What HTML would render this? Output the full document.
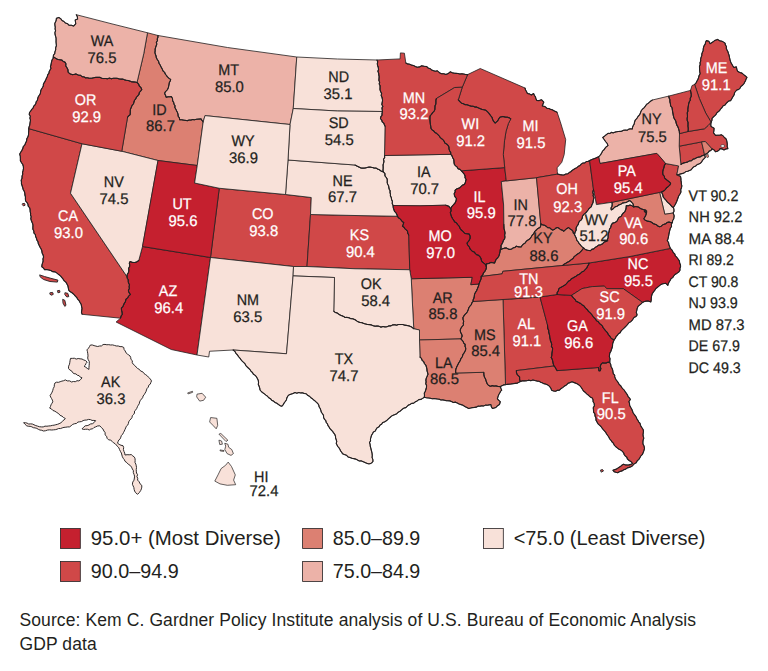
<!DOCTYPE html>
<html><head><meta charset="utf-8"><title>Map</title>
<style>html,body{margin:0;padding:0;background:#fff}body{width:768px;height:671px;position:relative;overflow:hidden;font-family:"Liberation Sans",sans-serif}</style></head>
<body>
<svg width="768" height="671" viewBox="0 0 768 671" style="position:absolute;left:0;top:0">
<g stroke="#231f20" stroke-width="0.8" stroke-linejoin="round">
<path fill="#d04848" d="M503 299.5 505.5 384.7 507.32 384.33 509.16 384.18 511 384 513.06 383.68 515.12 383.39 517.2 383.2 518.74 382.38 520.3 381.6 519.64 379.3 519.6 376.9 517.2 374.6 516.5 372.66 516.4 370.6 554 366 553.43 364.31 553 362.57 552.65 360.8 552.16 359.09 551.25 357.5 551.8 355.66 551.91 353.76 552.21 351.88 552.5 350 552.57 348.06 551.4 346.33 551.73 344.35 551.25 342.5 550.5 340.83 550.22 339.06 549.81 337.32 549.64 335.52 549.23 333.78 548.71 332.06 548.69 330.24 547.79 328.6 547.63 326.8 547.5 325 540 297Z"/>
<path fill="#dc8072" d="M411.25 278.75 412.5 305 413.75 328.75 419.5 330 419.5 340 460.9 338.9 462.25 336 461.57 334 460.52 332.13 460.25 330 460.99 328.11 462.17 326.51 463.5 325 463.3 323.13 463.68 321.22 463.12 319.38 463 317.5 463.98 315.89 465.05 314.35 466.48 313.08 467.5 311.5 468.29 309.65 468.88 307.7 470 306 471.33 304.72 471.87 302.91 473 301.5 473.23 299.72 474 298.1 474.34 296.35 474.5 294.56 475.2 292.9 476.57 290.81 477.5 288.5 478.43 286.31 479 284 470.8 284.7 472.3 277.3Z"/>
<path fill="#c5202f" d="M142.5 246.5 210.5 257.5 197 355 171.25 349.5 116.1 322 120.5 318.2 121 316.07 122.3 314.3 121.99 312.2 121.51 310.13 121.4 308 122.71 306.78 123.47 305.23 124.1 303.6 125.46 301.53 125.9 299.1 127.65 297.85 128.71 295.91 130.4 294.6 128.6 291.9 128.45 290.08 129.36 288.39 129.07 286.55 129.5 284.8 128.58 283.26 128.24 281.55 128.19 279.74 127.23 278.22 126.9 276.5 127.29 274.27 128.57 272.29 128.75 270 128.59 268.24 129.54 266.64 129.65 264.92 129.31 263.13 130 261.5 132.42 262.38 135 262.5 136.97 261.68 138.75 260.5Z"/>
<path fill="#d04848" d="M28.7 128.6 82 143.75 70.5 193.25 126.9 276.5 127.23 278.22 128.19 279.74 128.24 281.55 128.58 283.26 129.5 284.8 129.07 286.55 129.36 288.39 128.45 290.08 128.6 291.9 130.4 294.6 128.71 295.91 127.65 297.85 125.9 299.1 125.46 301.53 124.1 303.6 123.47 305.23 122.71 306.78 121.4 308 121.51 310.13 121.99 312.2 122.3 314.3 121 316.07 120.5 318.2 82.1 314.3 81.47 312.36 81.72 310.34 81.97 308.32 81.56 306.36 81.2 304.4 80.08 302.58 79.11 300.66 77.6 299.1 76.78 297.5 75.48 296.29 74.36 294.93 73.1 293.7 71.61 292.53 69.93 291.59 68.7 290.1 68.32 287.97 67.88 285.86 66.9 283.9 65.9 282.13 64.23 280.88 63.15 279.17 61.9 277.6 60.51 275.84 58.67 274.56 57 273.1 55.1 271.85 52.74 271.66 50.8 270.5 48.73 269.99 46.65 269.55 44.5 269.6 43.45 267.95 41.8 266.9 41.97 264.89 42.58 262.95 43.13 261.01 42.94 258.93 43.6 257 43.07 254.91 42.1 252.95 41.8 250.8 41.09 248.92 40.06 247.19 39.19 245.39 38.3 243.6 37.98 241.69 36.89 240.07 36.4 238.23 35.6 236.5 35.36 234.54 33.91 233.03 33.85 231 32.9 229.3 32.84 227.5 32.93 225.69 32.71 223.91 32 222.2 31.34 220.46 30.77 218.7 31.16 216.74 30.5 215 30.61 213.28 30.18 211.6 30.1 209.9 29.69 207.81 28.2 206.13 27.9 204 26.86 202.41 25.6 201 25.4 199 25.46 196.96 24.9 195 24.76 193.03 24.21 191.18 23.16 189.48 22.7 187.6 22.14 185.76 21.47 183.95 21.46 182 21.2 180.1 22.02 178.21 22.05 176.13 22.7 174.2 22.57 172.3 23.1 170.46 23.49 168.6 23.4 166.7 22.78 164.54 21.52 162.7 20.4 160.8 20.4 158.54 20.31 156.29 19.7 154.1 20.7 152.33 21.77 150.61 22.7 148.8 23.27 146.64 24.83 144.96 25.6 142.9 26.58 140.98 26.8 138.77 27.9 136.9 28.52 134.87 28.57 132.78 28.72 130.7Z"/>
<path fill="#d04848" d="M219.25 188.25 285.5 194.5 311.25 197.5 310.5 214.5 307 266.5 293.5 266.5 210.5 257.5Z"/>
<path fill="#d04848" d="M679.2 146.2 680.9 164.5 682.4 163.48 684.05 162.89 685.77 162.49 687.5 162.1 689.28 161.07 691.4 160.79 692.96 159.25 695 158.8 696.51 157.78 698.21 157.18 700.08 157.01 701.6 156 704.6 154.8 701.6 141.9Z"/>
<path fill="#f8e1d9" d="M659.6 192.4 664.8 214.3 673.2 213 674 211.2 673.9 209.32 673.4 207.5 671.66 206.43 670.48 204.75 669 203.4 667.31 202.07 666.13 200.27 664.64 198.75 663.3 197.1 662.91 195.29 662.24 193.59 661.5 191.9Z"/>
<path fill="#d04848" d="M520.3 381.6 519.64 379.3 519.6 376.9 517.2 374.6 516.5 372.66 516.4 370.6 554 366 555.28 367.37 556.09 369.05 557.1 370.6 598.6 367.5 598.9 370.8 600.2 370.8 600.83 368.71 600.25 366.49 600.9 364.4 602.5 362.8 604.34 363.07 606.16 362.96 607.96 362.15 609.8 362.5 610.71 364.41 611 366.5 612.01 368.21 612.69 370.04 613 372 613.3 373.74 614.68 375.04 614.71 376.88 615.42 378.46 616.2 380 617.36 381.4 618.36 382.89 619.2 384.5 620.76 385.69 621.6 387.49 622.9 388.9 624.3 390.19 625.26 391.82 626.39 393.32 627.4 394.9 628.13 396.58 629.33 397.95 630.4 399.4 628.9 401.6 629.49 403.4 629.6 405.3 630.63 407.28 631.79 409.21 632.6 411.3 633.17 413.02 634.28 414.41 635.35 415.81 636.3 417.3 636.9 418.98 637.97 420.36 638.67 421.98 640 423.2 640.55 425.42 641.66 427.37 643 429.2 643.48 430.95 643.31 432.76 643.05 434.58 643.24 436.36 643.8 438.1 643.17 440.05 642.91 442.05 643 444.1 644.13 446.22 644.5 448.6 643.84 450.83 643 453 642.28 454.69 640.84 455.89 640 457.5 638.94 459.36 637.23 460.75 636.3 462.7 634.17 463.86 632.6 465.7 631.01 466.77 629.21 467.36 627.4 467.9 625.78 469.1 623.82 469.7 622.2 470.9 619.83 471.51 617.7 472.7 615.83 472.29 614 471.7 612.9 470.2 615.5 469.4 617.42 468.41 619.2 467.2 620.74 466.26 622.08 465.02 623.7 464.2 625.37 464.92 627.12 464.98 628.9 464.9 630.81 464.37 632.6 463.5 631.1 461.7 629.12 460.53 627.4 459 626.85 457.27 625.38 456.1 624.26 454.73 623.7 453 622.43 451.37 620.84 450.13 619 449.2 617.22 447.89 615.5 446.5 614.2 445.1 613.45 443.28 612 442 611.02 440.27 609.59 438.85 608.8 437 607.69 435.53 606.62 434.02 605.73 432.39 604.5 431 603.25 429.56 602.07 428.07 601 426.5 599.45 425.19 597.99 423.8 597 422 595.98 420.12 595.93 417.91 595 416 594.87 413.91 593.54 412.12 593.5 410 593.25 407.78 594.39 405.71 594.2 403.5 593.12 401.82 593.04 399.8 592.3 398 590.18 396.96 588.5 395.3 586.65 393.91 585.1 392.2 583.45 390.95 582.35 389.24 581.3 387.5 579.99 385.82 578.34 384.55 576.5 383.5 574.25 382.64 572 381.8 570.09 382.6 568.1 383.2 566.39 385.05 564.2 386.3 562.65 387.62 560.87 388.66 559.5 390.2 557.44 390.34 555.6 391.3 553.54 390.99 551.6 390.2 551 388.58 550.1 387.1 548.78 385.69 547.21 384.66 545.4 384 543.7 383.62 542.17 382.83 540.59 382.17 539.1 381.3 536.99 381.09 534.94 380.58 532.9 380 530.85 380.66 528.65 380.17 526.6 380.8 524.48 380.91 522.34 380.88Z"/>
<path fill="#c5202f" d="M540 297 547.5 325 547.63 326.8 547.79 328.6 548.69 330.24 548.71 332.06 549.23 333.78 549.64 335.52 549.81 337.32 550.22 339.06 550.5 340.83 551.25 342.5 551.73 344.35 551.4 346.33 552.57 348.06 552.5 350 552.21 351.88 551.91 353.76 551.8 355.66 551.25 357.5 552.16 359.09 552.65 360.8 553 362.57 553.43 364.31 554 366 555.28 367.37 556.09 369.05 557.1 370.6 598.6 367.5 598.9 370.8 600.2 370.8 600.83 368.71 600.25 366.49 600.9 364.4 602.5 362.8 604.34 363.07 606.16 362.96 607.96 362.15 609.8 362.5 609.84 360.62 610.05 358.73 609.38 356.88 609.5 355 609.79 353.14 610.78 351.53 611.37 349.77 612.02 348.04 612.5 346.25 612.61 343.95 613.32 341.8 614.2 339.7 612.3 339.1 610.8 337.8 609.81 336.03 608.37 334.55 607.5 332.7 606.25 331.51 605.15 330.21 604.09 328.89 603.07 327.52 602.4 325.9 601.01 324.59 599.42 323.48 598.44 321.76 596.64 320.87 595.6 319.2 594.39 317.87 593.16 316.55 592.13 315.06 591 313.65 589.7 312.4 588.29 311.23 587.39 309.6 585.92 308.48 584.81 307.04 583.7 305.6 582.1 304.9 580.85 303.58 579.26 302.86 577.82 301.89 576.1 301.4 575.31 299.62 573.85 298.37 572.59 296.94 571.5 295.4 557 294.5Z"/>
<path fill="#f8e1d9" d="M384.5 155.5 384.64 157.47 383.5 159.24 383.89 161.25 383.59 163.15 383 165 383.13 166.75 383.14 168.51 382.88 170.29 383.5 172 384.84 173.62 384.93 175.87 386.25 177.5 387.14 179.05 387.26 180.79 387.2 182.57 387.61 184.24 388.6 185.77 388.75 187.5 389.18 189.16 390.06 190.71 389.97 192.51 390.44 194.16 390.41 195.94 391.25 197.5 391.56 199.53 392.39 201.44 392.22 203.57 393 205.5 420 205.8 445.8 205.2 448.7 206.2 450.8 208.8 451.8 206.6 453.39 204.75 455.1 203 456.01 200.92 456.5 198.7 455.19 197.11 454.4 195.2 454.29 193.45 455.21 191.85 455.1 190.1 457.09 188.73 459.4 188 460.96 186.65 462.45 185.21 464.4 184.4 465.26 182.83 465.67 181.11 466.1 179.4 465.07 177.89 465.15 176 464.4 174.4 462.99 172.57 461.5 170.8 459.97 169.39 458 168.7 457.15 166.98 455.58 165.85 454.4 164.4 454.09 162.71 453.99 160.99 453.7 159.3 452.67 157.67 452.06 155.8 450.8 154.3Z"/>
<path fill="#dc8072" d="M147.5 32.75 143.75 53.75 137 82.5 138.55 84 139.28 86.05 140.92 87.48 141.7 89.5 140.71 91.07 139.34 92.4 138.95 94.34 137.8 95.8 136.42 97.1 135.73 98.83 134.55 100.25 133.9 102 133.48 103.96 131.99 105.4 131.33 107.24 130.5 109 130.23 110.99 130.29 113.01 130 115 128.41 115.91 127.5 117.5 121.75 151.25 158 160.5 197.25 165.5 203.2 121.8 202.02 120.47 201.2 118.9 198.95 119.03 196.7 119.18 194.5 119.7 192.69 119.51 190.94 120.04 189.15 119.98 187.41 120.62 185.6 120.4 183.61 120.08 181.63 119.7 179.6 119.7 179.43 117.84 178.23 116.27 178.1 114.4 177.52 112.6 176.67 110.92 175.9 109.2 174.93 107.66 175.06 105.77 174.09 104.23 173.7 102.5 172.63 100.65 172.5 98.44 171.4 96.6 169.65 96.72 167.89 96.73 166.2 97.3 165.59 95.39 164.7 93.6 165.25 91.87 166.62 90.64 167.71 89.25 168.4 87.6 168.72 85.92 169.14 84.27 169.37 82.57 170.29 81.05 170.7 79.4 169.13 78.4 167.7 77.2 166.63 75.66 165.4 74.24 164.72 72.4 163.2 71.2 162.51 69.62 161.73 68.09 160.86 66.59 160.2 65 159.07 63.25 158.51 61.2 157.3 59.5 156.4 57.86 156.12 56.01 155.4 54.31 155 52.5 155.22 50.79 155.2 49.03 155.63 47.35 156.24 45.71 156.8 44.05 156.4 42.23 157.49 40.67 157.29 38.88 158 37.25 158 35.5Z"/>
<path fill="#c5202f" d="M450.8 208.8 451.1 210.7 450.31 212.6 450.8 214.5 451.46 216.55 452.44 218.45 453.7 220.2 454.6 221.89 456.41 222.79 457.4 224.4 459.14 226.19 460.1 228.5 461.14 229.96 462.6 231 464.8 233.5 467.05 233.82 469.3 234.1 470.08 236.23 470 238.5 469.25 240.17 468.27 241.68 467 243 467.63 245.18 469.32 246.84 470 249 471.24 250.18 472.39 251.45 474.22 251.92 475.2 253.4 476.49 254.72 478.31 255.24 479.7 256.4 480.77 257.99 481.26 259.83 481.9 261.6 483.76 263.16 485.7 264.6 486.4 267.6 486.36 265.75 486.4 263.9 488.78 263.53 490.9 262.4 492.76 262.69 494.6 263.1 495.35 261.25 496.1 259.4 497.84 257.75 499.1 255.7 499.55 253.71 500.11 251.74 500.3 249.7 501.12 247.77 501.08 245.58 502.1 243.7 502.94 242.07 503.47 240.31 504.59 238.81 505 237 504.64 235.05 505.11 233.05 504.7 231.1 504.17 228.9 503.94 226.66 503.9 224.4 503.6 205 501.3 181.6 506.3 180.9 504.7 167.6 461.5 170.8 462.99 172.57 464.4 174.4 465.15 176 465.07 177.89 466.1 179.4 465.67 181.11 465.26 182.83 464.4 184.4 462.45 185.21 460.96 186.65 459.4 188 457.09 188.73 455.1 190.1 455.21 191.85 454.29 193.45 454.4 195.2 455.19 197.11 456.5 198.7 456.01 200.92 455.1 203 453.39 204.75 451.8 206.6Z"/>
<path fill="#ecb2a8" d="M506.3 180.9 501.3 181.6 503.6 205 503.9 224.4 503.94 226.66 504.17 228.9 504.7 231.1 505.11 233.05 504.64 235.05 505 237 504.59 238.81 503.47 240.31 502.94 242.07 502.1 243.7 501.08 245.58 501.12 247.77 500.3 249.7 502.62 248.76 505 248 506.77 248.15 508.3 249.11 510 249.5 511.75 249.04 513.12 247.86 514.9 247.48 516.25 246.25 518.71 246.9 521.25 247 522.2 245.3 523.54 243.94 525.28 242.93 526.25 241.25 528.08 239.93 530 238.75 531.17 237.02 532.2 235.19 533.75 233.75 534.66 231.65 536.25 230 537.93 228.46 540 227.5 540.81 225.71 540.75 223.75 536.5 177.7Z"/>
<path fill="#d04848" d="M310.5 214.5 307 266.5 355 268.75 409.75 269.75 408.75 235 407.76 233.25 407.5 231.25 406.37 229.88 404.92 228.83 404.09 227.16 402.5 226.25 403.22 224.41 403.75 222.5 402.19 221.56 401.17 220.08 400 218.75 398.43 217.82 397.5 216.25 355 215.5Z"/>
<path fill="#dc8072" d="M481.2 276.5 502.1 273.9 502.8 271.3 562.5 265.5 563.9 264.35 565.51 263.52 566.99 262.49 568.61 261.67 570.13 260.7 571.5 259.5 573.11 258.54 574.02 256.78 575.49 255.65 576.9 254.46 578.5 253.5 580.05 252.34 581.38 250.97 582.55 249.45 583.8 248 581.73 246.65 580.2 244.7 579 243.32 578.14 241.67 576.8 240.4 576.37 238.3 575.43 236.4 574.5 234.5 573.35 233.17 573.02 231.4 572 230 570.15 229.04 568.75 227.5 566.84 228.42 565.28 229.82 563.75 231.25 562.31 230.1 560.5 229.58 559.16 228.28 557.5 227.5 555.72 228.1 554.35 229.53 552.5 230 550.98 229 549.62 227.72 547.57 227.59 546.25 226.25 544.51 225.22 542.5 224.77 540.75 223.75 540.81 225.71 540 227.5 537.93 228.46 536.25 230 534.66 231.65 533.75 233.75 532.2 235.19 531.17 237.02 530 238.75 528.08 239.93 526.25 241.25 525.28 242.93 523.54 243.94 522.2 245.3 521.25 247 518.71 246.9 516.25 246.25 514.9 247.48 513.12 247.86 511.75 249.04 510 249.5 508.3 249.11 506.77 248.15 505 248 502.62 248.76 500.3 249.7 500.11 251.74 499.55 253.71 499.1 255.7 497.84 257.75 496.1 259.4 495.35 261.25 494.6 263.1 492.76 262.69 490.9 262.4 488.78 263.53 486.4 263.9 486.36 265.75 486.4 267.6 485.83 269.52 484.9 271.3 483.44 272.94 482.7 275Z"/>
<path fill="#dc8072" d="M419.5 340 420 357.2 421.49 358.39 422.03 360.38 423.6 361.5 424.35 363.51 425.76 365.18 426.5 367.2 426.82 369.01 426.99 370.84 427.59 372.59 427.9 374.4 427.11 376.27 426.27 378.11 425.8 380.1 426.04 381.89 425.71 383.74 426.53 385.48 426.5 387.3 425.89 389.25 425.37 391.23 424.3 393 424.5 395.15 424.3 397.3 426.43 397.8 428.6 398 430.39 398.31 432.16 398.76 434 398.59 435.8 398.8 437.52 399.07 439.27 399.19 440.9 399.99 442.69 399.87 444.4 400.2 446.16 400.65 447.97 400.78 449.8 400.88 451.5 401.6 453.32 402.53 455.49 402.14 457.3 403.1 459.1 404.06 461.06 404.62 463 405.2 464.75 406.55 466.79 407.42 468.7 408.5 470.62 408.08 472.53 407.58 474.5 407.4 476.3 407.16 477.95 406.17 479.81 406.21 481.6 405.9 483.58 406.04 485.43 405.13 487.4 405.2 489.15 404.86 490.9 404.5 491.29 406.64 492.4 408.5 494.21 407.99 496 407.4 497.54 405.7 499.5 404.5 500.3 401.6 498.72 400.34 497.4 398.8 498.01 396.62 498.8 394.5 499.75 393.06 500.48 391.46 501.7 390.2 500.97 388.41 500.3 386.6 498.19 386.5 496.13 385.86 494 386 492.29 385.62 490.5 386.23 488.8 385.6 487.38 384.16 486.6 382.3 486.04 380.57 485.54 378.82 484.5 377.3 483.95 374.83 483.8 372.3 455.8 373 455.63 371.04 455.9 369.14 456.6 367.3 457.61 365.13 458.7 363 460.02 360.96 460.9 358.7 462.34 356.74 463 354.4 464.5 352.37 465.6 350.1 465.73 348.15 465.09 346.25 465.2 344.3 463.78 343.23 463.17 341.51 462.04 340.2 460.9 338.9Z"/>
<path fill="#d04848" d="M679.5 133.6 679.2 146.2 701.6 141.9 705.3 141.5 711.9 148.8 714.1 149.9 715.5 151.8 717.4 151.2 719 150.2 720 148.6 722.11 148.91 724 149.9 725.87 149 727.9 148.6 727.2 146.35 727.3 144 727.02 142.2 726.61 140.42 726 138.7 724.36 137.53 723.1 135.9 721.4 134.8 719.46 135.22 717.47 135.2 715.5 135.4 713.5 132.8 713.93 130.52 714.1 128.2 712.42 127.36 710.9 126.25 710.82 124.22 711.1 122.2 708.1 125.5 704.4 128.8 688 131.5Z"/>
<path fill="#dc8072" d="M611.9 202.3 612.19 204.26 611.95 206.18 610.99 208.04 611.25 210 613.34 208.7 615 206.9 617.05 206.3 618.75 205 620.78 204.35 622.5 203.1 624.36 202.71 626.25 202.5 628.04 201.37 630 200.6 631.16 201.94 632.5 203.1 633.44 204.95 633.75 207 635.6 206.5 638.25 207 640.9 208.8 642.95 209.46 645 210.1 646.6 212.75 645.5 215.9 643.8 218.8 645.22 220.28 647.1 221.1 650.2 221.6 651.86 222.56 653.4 223.7 656.5 224.75 657.81 226.14 659.6 226.8 661.43 226.17 662.75 224.75 665.9 223.7 667.23 222.48 669 222.1 670.67 222.58 672.4 222.4 672.65 220.55 673.7 219 674.2 215.9 673.2 213 664.8 214.3 659.6 192.4Z"/>
<path fill="#d04848" d="M694.6 84.4 699.3 98.4 705.7 113 711.1 122.2 711.94 120.39 712.1 118.4 713.24 117.04 714.64 115.9 715.92 114.67 716.7 113 718.2 111.77 719.69 110.54 720.7 108.83 722.1 107.5 723.12 105.77 725.16 105.06 726.23 103.38 727.6 102 728.98 100.87 730.75 100.6 731.95 98.39 733.25 96.25 734.22 94.65 734.55 92.73 735.75 91.25 736.95 89.86 738.83 89.4 740.1 88.1 741.01 86.34 742.64 85.2 743.9 83.75 744.65 82.18 745.54 80.67 746.08 78.99 747 77.5 745.4 75.96 743.64 74.59 742 73.1 739.7 72.42 737.6 71.25 736.81 69.13 736.4 66.9 733.9 67.5 732.9 65.98 732 64.4 730.98 62.82 730.4 61.08 729.92 59.3 729.5 57.5 729.16 55.53 728.49 53.67 727.95 51.77 727 50 726.29 48.34 726.43 46.44 725.37 44.88 725.1 43.1 723.57 42.14 722 41.25 719.62 40.74 717.6 39.4 714.5 40.6 713.14 41.79 711.58 42.72 710.1 43.75 708.9 41.25 706.4 40.6 705.57 42.15 705.32 43.93 704.25 45.39 703.61 47.02 703.25 48.75 703.17 50.59 702.44 52.27 701.79 53.97 701.78 55.84 701 57.5 700.63 59.24 700.69 61.05 700 62.73 700.19 64.57 699.5 66.25 699.53 68.13 699.59 70.02 699.76 71.89 700.1 73.75 699.03 75.74 698.5 77.94 697.6 80 696.69 81.53 695.97 83.19Z"/>
<path fill="#d04848" d="M467.6 74.6 462.25 87.25 458.3 99.8 459.8 101.59 461.5 103.2 463.34 103.71 465.05 104.68 467 104.8 469.01 105.52 471.02 106.26 473.2 106.3 474.89 107.11 476.85 107.15 478.53 107.97 480.25 108.7 482 109.45 483.87 109.79 485.7 110.25 487.44 111.68 488.9 113.4 490.4 115.39 492 117.3 492.55 119.33 493.5 121.2 495.1 123.2 497.5 121.2 498.6 119.22 499.8 117.3 502.9 116.5 505.21 117.12 507.6 117.3 509.31 117.88 510.8 118.9 508.4 123.5 506 131.4 504.5 140.8 503.3 154.5 504.7 167.6 506.3 180.9 536.5 177.7 557.6 174.1 557.3 171.5 557.1 167.8 561.8 162.3 564.2 154.5 565.7 139.6 560.25 121.6 557.1 112.25 555.5 111.43 553.87 110.7 552.33 109.75 550.55 109.36 548.98 108.46 547.05 108.45 545.68 107.09 544.08 106.27 542.25 106 542.99 104.04 543.8 102.1 541.5 99.7 539.23 100.59 536.8 100.5 535.97 98.76 535.43 96.89 534.35 95.27 533.6 93.5 531.3 95 529.49 93.89 527.4 93.5 526.6 91.67 525.57 89.93 525 88 480.25 68.5Z"/>
<path fill="#d04848" d="M377 60 377.67 61.82 377.31 63.76 377.59 65.63 378.27 67.45 378.56 69.32 377.88 71.3 378.62 73.11 378.75 75 379.13 76.77 378.94 78.59 378.85 80.4 379.65 82.12 379.19 83.97 380.01 85.7 380 87.5 379.95 89.59 380.6 91.54 381.57 93.43 381.19 95.58 382 97.5 382.45 99.24 382.53 100.99 382.1 102.75 381.77 104.52 382.79 106.23 381.92 108.02 382.21 109.76 382.5 111.5 381.98 113.31 381.95 115.25 380.73 116.86 380.5 118.75 381.68 120.08 382.13 121.85 383.63 122.99 384.3 124.63 385 126.25 384.5 155.5 450.8 154.3 450.68 152.39 449.6 150.72 449.05 148.92 449 147 448.06 145.37 446.82 144.03 445.01 143.22 444.25 141.43 443.15 139.95 441.73 138.77 440.3 137.6 439.26 135.97 437.91 134.65 436.57 133.32 434.83 132.39 433.71 130.83 431.98 129.89 431 128.2 430.77 126.42 430.44 124.65 430.25 122.87 430.09 121.09 429.99 119.3 430.05 117.5 430.2 115.7 431.62 114.34 432.6 112.64 434.11 111.34 434.9 109.5 435.01 107.65 435.08 105.79 435.88 104.03 435.95 102.17 435.96 100.31 436.4 98.5 454.7 87.5 462.25 87.25 467.6 74.6 465.6 74.52 463.66 74.01 461.7 73.7 459.87 73.94 458.09 73.57 456.3 73.4 454.5 73.2 452.27 72.74 450.2 71.8 448.3 73.51 445.9 74.4 443.81 73.71 441.6 73.7 439.96 73.04 438.62 71.94 437.3 70.8 435.52 71.18 433.75 70.8 431.78 70.08 430.2 68.7 428.15 68 426.6 66.5 424.09 66.25 421.6 65.8 419.58 66.91 417.3 67.2 415.33 66.59 413.53 65.53 411.5 65.1 409.66 64.22 407.59 63.91 405.8 62.9 404.4 53.2 400.4 52.9 400.1 58.9Z"/>
<path fill="#c5202f" d="M393 205.5 393.27 207.8 394 210 394.68 211.67 396.07 212.95 396.79 214.59 397.5 216.25 398.43 217.82 400 218.75 401.17 220.08 402.19 221.56 403.75 222.5 403.22 224.41 402.5 226.25 404.09 227.16 404.92 228.83 406.37 229.88 407.5 231.25 407.76 233.25 408.75 235 409.75 269.75 411.25 278.75 472.3 277.3 470.8 284.7 479 284 479.72 282.14 480.5 280.3 481.24 278.47 481.2 276.5 482.7 275 483.44 272.94 484.9 271.3 485.83 269.52 486.4 267.6 485.7 264.6 483.76 263.16 481.9 261.6 481.26 259.83 480.77 257.99 479.7 256.4 478.31 255.24 476.49 254.72 475.2 253.4 474.22 251.92 472.39 251.45 471.24 250.18 470 249 469.32 246.84 467.63 245.18 467 243 468.27 241.68 469.25 240.17 470 238.5 470.08 236.23 469.3 234.1 467.05 233.82 464.8 233.5 462.6 231 461.14 229.96 460.1 228.5 459.14 226.19 457.4 224.4 456.41 222.79 454.6 221.89 453.7 220.2 452.44 218.45 451.46 216.55 450.8 214.5 450.31 212.6 451.1 210.7 450.8 208.8 448.7 206.2 445.8 205.2 420 205.8Z"/>
<path fill="#dc8072" d="M473 301.5 471.87 302.91 471.33 304.72 470 306 468.88 307.7 468.29 309.65 467.5 311.5 466.48 313.08 465.05 314.35 463.98 315.89 463 317.5 463.12 319.38 463.68 321.22 463.3 323.13 463.5 325 462.17 326.51 460.99 328.11 460.25 330 460.52 332.13 461.57 334 462.25 336 460.9 338.9 462.04 340.2 463.17 341.51 463.78 343.23 465.2 344.3 465.09 346.25 465.73 348.15 465.6 350.1 464.5 352.37 463 354.4 462.34 356.74 460.9 358.7 460.02 360.96 458.7 363 457.61 365.13 456.6 367.3 455.9 369.14 455.63 371.04 455.8 373 483.8 372.3 483.95 374.83 484.5 377.3 485.54 378.82 486.04 380.57 486.6 382.3 487.38 384.16 488.8 385.6 490.5 386.23 492.29 385.62 494 386 496.13 385.86 498.19 386.5 500.3 386.6 501.95 385.74 503.61 384.91 505.5 384.7 503 299.5Z"/>
<path fill="#ecb2a8" d="M158 35.5 158 37.25 157.29 38.88 157.49 40.67 156.4 42.23 156.8 44.05 156.24 45.71 155.63 47.35 155.2 49.03 155.22 50.79 155 52.5 155.4 54.31 156.12 56.01 156.4 57.86 157.3 59.5 158.51 61.2 159.07 63.25 160.2 65 160.86 66.59 161.73 68.09 162.51 69.62 163.2 71.2 164.72 72.4 165.4 74.24 166.63 75.66 167.7 77.2 169.13 78.4 170.7 79.4 170.29 81.05 169.37 82.57 169.14 84.27 168.72 85.92 168.4 87.6 167.71 89.25 166.62 90.64 165.25 91.87 164.7 93.6 165.59 95.39 166.2 97.3 167.89 96.73 169.65 96.72 171.4 96.6 172.5 98.44 172.63 100.65 173.7 102.5 174.09 104.23 175.06 105.77 174.93 107.66 175.9 109.2 176.67 110.92 177.52 112.6 178.1 114.4 178.23 116.27 179.43 117.84 179.6 119.7 181.63 119.7 183.61 120.08 185.6 120.4 187.41 120.62 189.15 119.98 190.94 120.04 192.69 119.51 194.5 119.7 196.7 119.18 198.95 119.03 201.2 118.9 202.02 120.47 203.2 121.8 205 115.6 290 124.5 293.25 108.5 296.75 57 227.5 47.5Z"/>
<path fill="#c5202f" d="M557 294.5 571.5 295.4 582 288.6 592.2 286.6 604.4 286.1 606.6 288.6 623.3 288.7 642.5 302.4 644.5 301.5 646.33 301.13 648.2 301 650.8 302 651.24 300.23 651.3 298.4 651.56 296 652.3 293.7 653.53 291.85 654.9 290.1 655.82 288.55 657.27 287.53 658.6 286.4 660.51 284.84 662.75 283.8 665.9 283.3 667.8 285.4 668.29 283.76 669 282.2 670.13 280.45 671.1 278.6 672.72 277.62 673.7 276 675 274.4 676.8 273.4 678.72 272.12 680 270.2 679.97 268.45 680.54 266.75 680.5 265 679.67 263.03 679.4 260.9 678.1 259.05 676.8 257.2 675.32 255.85 674.74 253.81 673.2 252.5 672.13 250.22 670.4 248.4 630 256.5 589 263 588.49 264.73 587.5 266.25 586.63 268.2 585.08 269.64 583.75 271.25 581.95 271.79 580.69 273.23 579.21 274.3 577.5 275 576.07 276.15 574.49 277.07 572.9 277.97 571.25 278.75 570.25 280.25 568.61 281.11 567.47 282.47 566.29 283.79 565 285 563.4 285.87 561.87 286.86 560.22 287.65 558.75 288.75 558.36 290.73 557.15 292.45Z"/>
<path fill="#f8e1d9" d="M296.75 57 293.25 108.5 337.5 111 382.5 111.5 382.21 109.76 381.92 108.02 382.79 106.23 381.77 104.52 382.1 102.75 382.53 100.99 382.45 99.24 382 97.5 381.19 95.58 381.57 93.43 380.6 91.54 379.95 89.59 380 87.5 380.01 85.7 379.19 83.97 379.65 82.12 378.85 80.4 378.94 78.59 379.13 76.77 378.75 75 378.62 73.11 377.88 71.3 378.56 69.32 378.27 67.45 377.59 65.63 377.31 63.76 377.67 61.82 377 60 337.5 59Z"/>
<path fill="#f8e1d9" d="M288 160 355 165 356.96 166.07 358.98 167.04 361 168 363.05 168.14 365.06 167.98 367.03 167.52 369 167 370.76 167.17 372.5 167.53 374.21 168.06 376 168 377.63 169.07 379.45 169.81 381 171 383.5 172 384.84 173.62 384.93 175.87 386.25 177.5 387.14 179.05 387.26 180.79 387.2 182.57 387.61 184.24 388.6 185.77 388.75 187.5 389.18 189.16 390.06 190.71 389.97 192.51 390.44 194.16 390.41 195.94 391.25 197.5 391.56 199.53 392.39 201.44 392.22 203.57 393 205.5 393.27 207.8 394 210 394.68 211.67 396.07 212.95 396.79 214.59 397.5 216.25 355 215.5 310.5 214.5 311.25 197.5 285.5 194.5Z"/>
<path fill="#d04848" d="M688 131.5 704.4 128.8 708.1 125.5 711.1 122.2 705.7 113 699.3 98.4 694.6 84.4 692 85.6 690.5 90.4 690.81 92.46 691.22 94.5 691.1 96.6 690.19 98.31 690.22 100.3 689.15 101.96 688.63 103.79 688.4 105.7 688 107.49 687.77 109.3 687.86 111.15 687.2 112.91 687.41 114.77 687.47 116.6 687.1 118.4 687.19 120.37 687.93 122.28 687.95 124.26 687.9 126.25 688.2 127.99 688.21 129.75Z"/>
<path fill="#d04848" d="M661.5 191.9 662.24 193.59 662.91 195.29 663.3 197.1 664.64 198.75 666.13 200.27 667.31 202.07 669 203.4 670.48 204.75 671.66 206.43 673.4 207.5 674.32 205.99 675.27 204.49 676.04 202.9 676.8 201.3 677.9 198.2 678.69 195.97 680 194 680.96 192.01 680.72 189.73 681.5 187.7 681.83 185.84 681.38 184.04 681.3 182.21 681 180.4 680.88 178.31 680.5 176.25 678.62 175.61 676.8 174.8 678.6 165.9 665.5 163.5 664.33 165.63 663.8 168 663.15 169.61 662.77 171.27 662.7 173 662.91 174.81 664.35 176.17 664.5 178 666.29 179.51 668.1 181 670.7 183.1 669.79 185.18 668.1 186.7 666.58 187.66 665.64 189.18 664.5 190.5Z"/>
<path fill="#f8e1d9" d="M210.5 257.5 197 355 208.75 357 209.5 351.25 233 350 286.5 353.75 293.1 275.9 293.5 266.5Z"/>
<path fill="#f8e1d9" d="M82 143.75 121.75 151.25 158 160.5 142.5 246.5 138.75 260.5 136.97 261.68 135 262.5 132.42 262.38 130 261.5 129.31 263.13 129.65 264.92 129.54 266.64 128.59 268.24 128.75 270 128.57 272.29 127.29 274.27 126.9 276.5 70.5 193.25Z"/>
<path fill="#ecb2a8" d="M665.5 163.5 678.6 165.9 676.8 174.8 678.83 174.45 680.8 173.87 682.8 173.4 684.45 172.69 685.91 171.56 687.75 171.31 689.4 170.6 691.29 169.79 692.46 167.98 693.99 166.68 695.9 165.9 697.1 164.61 698.81 164.09 700.29 163.23 701.6 162.1 702.52 160.28 703.9 158.84 705.3 157.4 704.6 154.8 701.6 156 700.08 157.01 698.21 157.18 696.51 157.78 695 158.8 692.96 159.25 691.4 160.79 689.28 161.07 687.5 162.1 685.77 162.49 684.05 162.89 682.4 163.48 680.9 164.5 679.2 146.2 679.5 133.6 679.34 131.32 678.71 129.15 678 127 676.88 125.14 676.21 123.12 675.8 121 674.73 119.42 673.9 117.7 673.42 115.8 673.09 113.86 672.65 111.95 672.4 110 672.12 107.74 670.63 105.87 670.4 103.6 669.93 101.74 669.93 99.78 669.15 97.99 668.8 96.1 652.4 100 650.88 100.98 649.49 102.14 648.17 103.38 646.6 104.3 645.36 106.13 644.04 107.9 642.3 109.3 641.07 111.01 640.42 113.06 639.48 114.94 638 116.5 636.9 118.44 635.25 120.05 634.5 122.2 634.22 123.98 633.29 125.55 632.53 127.18 632.4 129 630.57 128.83 628.83 129.15 627.22 130.22 625.41 130.16 623.62 130.21 621.98 131.09 620.24 131.42 618.45 131.47 616.7 131.73 614.97 132.14 613.3 132.85 611.42 132.4 609.81 133.44 608 133.4 606.22 134.76 604.51 136.19 602.7 137.5 604.16 139.46 605.5 141.5 607.12 143.33 608 145.6 606.36 146.68 605.1 148.12 604.1 149.8 602.64 150.91 601.87 152.58 600.98 154.14 599.87 155.53 598.6 156.8 600 163.5 656.8 153.4 661 158Z"/>
<path fill="#d04848" d="M536.5 177.7 540.75 223.75 542.5 224.77 544.51 225.22 546.25 226.25 547.57 227.59 549.62 227.72 550.98 229 552.5 230 554.35 229.53 555.72 228.1 557.5 227.5 559.16 228.28 560.5 229.58 562.31 230.1 563.75 231.25 565.28 229.82 566.84 228.42 568.75 227.5 570.15 229.04 572 230 573.02 231.4 573.35 233.17 574.5 234.5 575.14 232.16 576.25 230 576.15 228.05 576.9 226.25 578.2 224.56 578.75 222.5 579.72 220.97 581.25 220 582.24 218.25 582.5 216.25 583.74 214.37 585.6 213.1 586.85 211.55 588.1 210 589.43 208.2 591.25 206.9 591.99 204.62 593.1 202.5 593.39 199.97 594 197.5 593.15 195.94 593.45 194.1 592.75 192.5 593.5 189.6 589.6 160.5 588.07 161.44 586.19 161.55 584.83 162.91 582.95 162.99 581.4 163.9 580.12 165.47 578.32 166.34 576.82 167.62 575.1 168.6 573.51 169.46 572.05 170.5 570.74 171.75 569.15 172.6 567.8 173.8 565.75 174.07 563.9 175 561.94 174.91 560 174.6 557.6 174.1Z"/>
<path fill="#f8e1d9" d="M293.5 266.5 293.1 275.9 334.5 277.5 333.75 311.25 335.18 312.41 337.01 312.9 338.49 313.97 340 315 341.75 315.66 343.47 316.39 345 317.5 346.94 317.41 348.81 317.77 350.59 318.62 352.5 318.75 354.5 319.44 356.27 320.58 357.99 321.84 360 322.5 361.96 322.68 363.74 323.53 365.6 324.08 367.5 324.5 369.46 324.59 371.35 324.96 373.14 325.74 375 326.25 377.02 326.09 379.02 326.25 380.96 327.18 383.03 326.46 385 327 386.95 326.8 388.75 326 390.73 325.91 392.5 325 394.49 324.71 396.52 325.19 398.49 324.52 400.5 324.55 402.5 324.5 404.34 325.1 406.25 325.39 408.15 325.69 410 326.25 412.01 327.3 413.75 328.75 412.5 305 411.25 278.75 409.75 269.75 355 268.75 307 266.5Z"/>
<path fill="#d04848" d="M53.3 56.8 55.6 58.2 57.8 59.44 60.3 59.8 62.08 60.13 63.33 61.55 65 62.1 65.96 63.82 65.81 65.93 66.9 67.6 68.02 69.82 68.2 72.3 69.96 73.78 72.1 74.6 74.08 74.43 76 73.9 78.24 74.99 80.7 75.4 82.04 76.65 83.95 76.77 85.4 77.8 87.48 77.77 89.52 78.27 91.6 78.2 93.67 77.68 95.77 77.37 97.9 77.3 99.89 77.33 101.75 78.25 103.69 78.57 105.7 78.5 107.59 78.74 109.45 78.1 111.35 78.74 113.22 78.27 115.1 78.2 117.03 78.26 118.87 78.8 120.75 79.08 122.69 79.06 124.5 79.8 126.27 80.25 128.1 80.43 129.84 81.03 131.55 81.76 133.4 81.87 135.23 82.02 137 82.5 138.55 84 139.28 86.05 140.92 87.48 141.7 89.5 140.71 91.07 139.34 92.4 138.95 94.34 137.8 95.8 136.42 97.1 135.73 98.83 134.55 100.25 133.9 102 133.48 103.96 131.99 105.4 131.33 107.24 130.5 109 130.23 110.99 130.29 113.01 130 115 128.41 115.91 127.5 117.5 121.75 151.25 82 143.75 28.7 128.6 29.07 126.88 29.71 125.22 29.91 123.47 30.22 121.74 30.5 120 29.87 118.18 30.36 116.2 29.27 114.44 29.5 112.5 30.69 111.07 31.62 109.44 33.07 108.2 33.59 106.27 35 105 35.84 103.48 36.17 101.74 37.34 100.35 37.71 98.63 38.17 96.94 39.09 95.46 40.12 94.01 40.55 92.32 40.78 90.53 41.54 88.97 42.5 87.5 43.32 85.97 43.42 84.13 44.24 82.6 45.16 81.11 45.87 79.53 46.54 77.93 47.33 76.39 47.74 74.68 48.87 73.28 49.2 71.54 50 70 50.9 68.47 50.46 66.61 50.96 64.98 51.24 63.3 51.62 61.64 52.01 59.98 53.05 58.49Z"/>
<path fill="#c5202f" d="M589.6 160.5 593.5 189.6 596.4 204.6 611.9 202.3 659.6 192.4 661.5 191.9 664.5 190.5 665.64 189.18 666.58 187.66 668.1 186.7 669.79 185.18 670.7 183.1 668.1 181 666.29 179.51 664.5 178 664.35 176.17 662.91 174.81 662.7 173 662.77 171.27 663.15 169.61 663.8 168 664.33 165.63 665.5 163.5 661 158 656.8 153.4 600 163.5 598.6 156.8 596.78 157.5 595.04 158.39 593.16 158.93 591.37 159.68Z"/>
<path fill="#dc8072" d="M701.6 141.9 704.6 154.8 706.36 153.76 708.1 152.7 709.08 151.13 710.98 150.44 711.9 148.8 705.3 141.5Z"/>
<path fill="#d04848" d="M571.5 295.4 572.59 296.94 573.85 298.37 575.31 299.62 576.1 301.4 577.82 301.89 579.26 302.86 580.85 303.58 582.1 304.9 583.7 305.6 584.81 307.04 585.92 308.48 587.39 309.6 588.29 311.23 589.7 312.4 591 313.65 592.13 315.06 593.16 316.55 594.39 317.87 595.6 319.2 596.64 320.87 598.44 321.76 599.42 323.48 601.01 324.59 602.4 325.9 603.07 327.52 604.09 328.89 605.15 330.21 606.25 331.51 607.5 332.7 608.37 334.55 609.81 336.03 610.8 337.8 612.3 339.1 614.2 339.7 615.41 338.31 616.1 336.51 617.47 335.25 618.44 333.67 620.24 332.74 621 331 622.4 329.68 623.79 328.35 625.16 327 626.55 325.67 627.8 324.2 628.83 322.7 630.52 321.87 631.87 320.7 632.9 319.2 633.96 317.43 635.98 316.6 637.1 314.9 636.3 312.4 636.78 310.38 637.24 308.35 638 306.4 639.54 305.11 641.13 303.88 642.5 302.4 623.3 288.7 606.6 288.6 604.4 286.1 592.2 286.6 582 288.6Z"/>
<path fill="#f8e1d9" d="M293.25 108.5 290 124.5 288 160 355 165 356.96 166.07 358.98 167.04 361 168 363.05 168.14 365.06 167.98 367.03 167.52 369 167 370.76 167.17 372.5 167.53 374.21 168.06 376 168 377.63 169.07 379.45 169.81 381 171 383.5 172 382.88 170.29 383.14 168.51 383.13 166.75 383 165 383.59 163.15 383.89 161.25 383.5 159.24 384.64 157.47 384.5 155.5 385 126.25 384.3 124.63 383.63 122.99 382.13 121.85 381.68 120.08 380.5 118.75 380.73 116.86 381.95 115.25 381.98 113.31 382.5 111.5 337.5 111Z"/>
<path fill="#d04848" d="M479 284 478.43 286.31 477.5 288.5 476.57 290.81 475.2 292.9 474.5 294.56 474.34 296.35 474 298.1 473.23 299.72 473 301.5 503 299.5 540 297 557 294.5 557.15 292.45 558.36 290.73 558.75 288.75 560.22 287.65 561.87 286.86 563.4 285.87 565 285 566.29 283.79 567.47 282.47 568.61 281.11 570.25 280.25 571.25 278.75 572.9 277.97 574.49 277.07 576.07 276.15 577.5 275 579.21 274.3 580.69 273.23 581.95 271.79 583.75 271.25 585.08 269.64 586.63 268.2 587.5 266.25 588.49 264.73 589 263 562.5 265.5 502.8 271.3 502.1 273.9 481.2 276.5 481.24 278.47 480.5 280.3 479.72 282.14Z"/>
<path fill="#f8e1d9" d="M233 350 286.5 353.75 293.1 275.9 334.5 277.5 333.75 311.25 335.18 312.41 337.01 312.9 338.49 313.97 340 315 341.75 315.66 343.47 316.39 345 317.5 346.94 317.41 348.81 317.77 350.59 318.62 352.5 318.75 354.5 319.44 356.27 320.58 357.99 321.84 360 322.5 361.96 322.68 363.74 323.53 365.6 324.08 367.5 324.5 369.46 324.59 371.35 324.96 373.14 325.74 375 326.25 377.02 326.09 379.02 326.25 380.96 327.18 383.03 326.46 385 327 386.95 326.8 388.75 326 390.73 325.91 392.5 325 394.49 324.71 396.52 325.19 398.49 324.52 400.5 324.55 402.5 324.5 404.34 325.1 406.25 325.39 408.15 325.69 410 326.25 412.01 327.3 413.75 328.75 419.5 330 419.5 340 420 357.2 421.49 358.39 422.03 360.38 423.6 361.5 424.35 363.51 425.76 365.18 426.5 367.2 426.82 369.01 426.99 370.84 427.59 372.59 427.9 374.4 427.11 376.27 426.27 378.11 425.8 380.1 426.04 381.89 425.71 383.74 426.53 385.48 426.5 387.3 425.89 389.25 425.37 391.23 424.3 393 424.5 395.15 424.3 397.3 422.61 398.37 420.91 399.42 418.79 399.64 417.2 400.9 415.39 401.77 413.82 403.13 411.69 403.38 410 404.5 408.34 405.12 407.14 406.42 405.86 407.61 404.09 408.06 402.62 408.97 401.31 410.1 400 411.25 398.25 412.15 396.88 413.67 395.09 414.52 393.17 415.16 391.47 416.14 390 417.5 388.61 418.63 387.37 419.95 385.96 421.05 384.42 421.96 382.61 422.52 381.65 424.22 380 425 379.11 426.77 377.22 427.67 376.12 429.26 375.31 431.1 373.39 431.98 372.5 433.75 371.5 435.36 371.01 437.15 370.46 438.92 370.54 440.9 369.5 442.5 370.09 444.34 370.28 446.27 370.79 448.13 371.25 450 371.73 451.85 372.12 453.7 372.28 455.6 372.11 457.55 372.81 459.36 373 461.25 371.81 462.87 370 463.75 368.21 463.82 366.6 463.17 365 462.5 363.2 461.65 361.37 460.89 359.26 460.96 357.5 460 355.72 459.1 353.8 458.6 351.83 458.25 350 457.5 347.94 456.92 346.45 455.23 344.42 454.59 342.5 453.75 341.69 452.23 340.57 450.9 339.87 449.3 338.98 447.83 337.83 446.51 337 445 336.26 443.32 336.73 441.44 336.23 439.73 335.58 438.04 335.5 436.25 334.8 434.44 333.62 432.96 332.61 431.36 331.25 430 329.97 428.69 329.12 427.09 328.02 425.65 327.44 423.87 326.25 422.5 325.77 420.63 324.4 419.15 323.6 417.42 323.5 415.39 322.5 413.75 321.3 412.19 320.83 410.32 320.21 408.52 319.12 406.91 318.75 405 317.76 403.49 316.43 402.32 315.19 401.06 313.7 400.05 312.5 398.75 310.8 397.67 309.4 396.22 307.58 395.29 306.25 393.75 304.37 393.57 302.55 392.87 300.65 392.92 298.8 392.49 296.82 393.18 295 392.5 293.01 393.57 290.83 394.17 288.75 395 287.63 396.4 286.82 397.97 286.46 399.76 285.5 401.25 284.23 402.84 283.24 404.64 282 406.25 280.06 405.67 278.45 404.47 276.87 403.21 275 402.5 273.61 401.12 271.72 400.34 270.55 398.69 268.76 397.79 267.5 396.25 265.92 395.09 264.4 393.87 262.8 392.74 261.3 391.49 260 390 259.73 388.09 259.11 386.26 258.33 384.47 258.54 382.45 258.3 380.54 257.5 378.75 256.52 376.97 255.3 375.38 253.38 374.36 252.5 372.5 250.96 371.29 250.01 369.57 248.57 368.28 247.14 366.98 245.88 365.53 245 363.75 243.56 362.46 242.17 361.12 240.93 359.65 239.86 358.03 238.54 356.64 237.5 355 235.97 353.36 234.85 351.35Z"/>
<path fill="#c5202f" d="M158 160.5 197.25 165.5 194.6 183 219.25 188.25 210.5 257.5 142.5 246.5Z"/>
<path fill="#d04848" d="M589 263 630 256.5 670.4 248.4 669.62 246.51 668.9 244.6 668.55 242.47 667.3 240.7 668.06 238.66 668.48 236.53 668.9 234.4 669.3 232.31 669.81 230.24 670.4 228.2 671.52 226.42 671.36 224.2 672.4 222.4 670.67 222.58 669 222.1 667.23 222.48 665.9 223.7 662.75 224.75 661.43 226.17 659.6 226.8 657.81 226.14 656.5 224.75 653.4 223.7 651.86 222.56 650.2 221.6 647.1 221.1 645.22 220.28 643.8 218.8 645.5 215.9 646.6 212.75 645 210.1 642.95 209.46 640.9 208.8 638.25 207 635.6 206.5 633.75 207 632.04 205.69 630 205 628.2 205.75 626.25 205.6 626.07 207.82 625.6 210 624.72 211.85 623.1 213.1 622.05 214.6 621.25 216.25 618.75 217.5 617.81 219.37 616.9 221.25 615 222.5 612.5 223.1 611.22 225.16 610.6 227.5 609.55 229 609.15 230.75 608.75 232.5 608.07 234.95 608.1 237.5 607.5 239.38 606.9 241.25 604.4 241.9 602.5 243.75 600.75 244.74 598.75 245 596.95 246.36 595 247.5 593.76 248.85 591.82 249.22 590.6 250.6 588.72 250.47 586.9 250 585.08 249.42 583.8 248 582.55 249.45 581.38 250.97 580.05 252.34 578.5 253.5 576.9 254.46 575.49 255.65 574.02 256.78 573.11 258.54 571.5 259.5 570.13 260.7 568.61 261.67 566.99 262.49 565.51 263.52 563.9 264.35 562.5 265.5Z"/>
<path fill="#d04848" d="M668.8 96.1 669.15 97.99 669.93 99.78 669.93 101.74 670.4 103.6 670.63 105.87 672.12 107.74 672.4 110 672.65 111.95 673.09 113.86 673.42 115.8 673.9 117.7 674.73 119.42 675.8 121 676.21 123.12 676.88 125.14 678 127 678.71 129.15 679.34 131.32 679.5 133.6 688 131.5 688.21 129.75 688.2 127.99 687.9 126.25 687.95 124.26 687.93 122.28 687.19 120.37 687.1 118.4 687.47 116.6 687.41 114.77 687.2 112.91 687.86 111.15 687.77 109.3 688 107.49 688.4 105.7 688.63 103.79 689.15 101.96 690.22 100.3 690.19 98.31 691.1 96.6 691.22 94.5 690.81 92.46 690.5 90.4Z"/>
<path fill="#ecb2a8" d="M53.3 56.8 53.49 55.05 54.7 53.64 54.9 51.9 55.66 49.9 55.66 47.71 56.4 45.7 56.24 43.82 56.03 41.94 56.07 40.05 56.05 38.16 55.6 36.3 55.08 34.49 54.9 32.66 55.59 30.78 55.07 28.97 55.28 27.12 54.9 25.3 54.79 23.45 55.6 21.79 56.24 20.1 56.4 18.3 58.8 17.5 60.7 18.62 62 20.52 64 21.5 65.41 23.09 67.59 23.66 68.95 25.3 71.36 25.23 73.6 26.1 75.7 23.8 75.49 21.84 75.2 19.9 77.6 19.1 77.37 16.78 76.3 14.7 112 23.9 147.5 32.75 143.75 53.75 137 82.5 135.23 82.02 133.4 81.87 131.55 81.76 129.84 81.03 128.1 80.43 126.27 80.25 124.5 79.8 122.69 79.06 120.75 79.08 118.87 78.8 117.03 78.26 115.1 78.2 113.22 78.27 111.35 78.74 109.45 78.1 107.59 78.74 105.7 78.5 103.69 78.57 101.75 78.25 99.89 77.33 97.9 77.3 95.77 77.37 93.67 77.68 91.6 78.2 89.52 78.27 87.48 77.77 85.4 77.8 83.95 76.77 82.04 76.65 80.7 75.4 78.24 74.99 76 73.9 74.08 74.43 72.1 74.6 69.96 73.78 68.2 72.3 68.02 69.82 66.9 67.6 65.81 65.93 65.96 63.82 65 62.1 63.33 61.55 62.08 60.13 60.3 59.8 57.8 59.44 55.6 58.2Z"/>
<path fill="#d04848" d="M450.8 154.3 452.06 155.8 452.67 157.67 453.7 159.3 453.99 160.99 454.09 162.71 454.4 164.4 455.58 165.85 457.15 166.98 458 168.7 459.97 169.39 461.5 170.8 504.7 167.6 503.3 154.5 504.5 140.8 506 131.4 508.4 123.5 510.8 118.9 509.31 117.88 507.6 117.3 505.21 117.12 502.9 116.5 499.8 117.3 498.6 119.22 497.5 121.2 495.1 123.2 493.5 121.2 492.55 119.33 492 117.3 490.4 115.39 488.9 113.4 487.44 111.68 485.7 110.25 483.87 109.79 482 109.45 480.25 108.7 478.53 107.97 476.85 107.15 474.89 107.11 473.2 106.3 471.02 106.26 469.01 105.52 467 104.8 465.05 104.68 463.34 103.71 461.5 103.2 459.8 101.59 458.3 99.8 462.25 87.25 454.7 87.5 436.4 98.5 435.96 100.31 435.95 102.17 435.88 104.03 435.08 105.79 435.01 107.65 434.9 109.5 434.11 111.34 432.6 112.64 431.62 114.34 430.2 115.7 430.05 117.5 429.99 119.3 430.09 121.09 430.25 122.87 430.44 124.65 430.77 126.42 431 128.2 431.98 129.89 433.71 130.83 434.83 132.39 436.57 133.32 437.91 134.65 439.26 135.97 440.3 137.6 441.73 138.77 443.15 139.95 444.25 141.43 445.01 143.22 446.82 144.03 448.06 145.37 449 147 449.05 148.92 449.6 150.72 450.68 152.39Z"/>
<path fill="#f8e1d9" d="M574.5 234.5 575.14 232.16 576.25 230 576.15 228.05 576.9 226.25 578.2 224.56 578.75 222.5 579.72 220.97 581.25 220 582.24 218.25 582.5 216.25 583.74 214.37 585.6 213.1 586.85 211.55 588.1 210 589.43 208.2 591.25 206.9 591.99 204.62 593.1 202.5 593.39 199.97 594 197.5 593.15 195.94 593.45 194.1 592.75 192.5 593.5 189.6 596.4 204.6 611.9 202.3 612.19 204.26 611.95 206.18 610.99 208.04 611.25 210 613.34 208.7 615 206.9 617.05 206.3 618.75 205 620.78 204.35 622.5 203.1 624.36 202.71 626.25 202.5 628.04 201.37 630 200.6 631.16 201.94 632.5 203.1 633.44 204.95 633.75 207 632.04 205.69 630 205 628.2 205.75 626.25 205.6 626.07 207.82 625.6 210 624.72 211.85 623.1 213.1 622.05 214.6 621.25 216.25 618.75 217.5 617.81 219.37 616.9 221.25 615 222.5 612.5 223.1 611.22 225.16 610.6 227.5 609.55 229 609.15 230.75 608.75 232.5 608.07 234.95 608.1 237.5 607.5 239.38 606.9 241.25 604.4 241.9 602.5 243.75 600.75 244.74 598.75 245 596.95 246.36 595 247.5 593.76 248.85 591.82 249.22 590.6 250.6 588.72 250.47 586.9 250 585.08 249.42 583.8 248 581.73 246.65 580.2 244.7 579 243.32 578.14 241.67 576.8 240.4 576.37 238.3 575.43 236.4Z"/>
<path fill="#f8e1d9" d="M197.25 165.5 203.2 121.8 205 115.6 290 124.5 288 160 285.5 194.5 219.25 188.25 194.6 183Z"/>
<path fill="#f8e1d9" stroke="none" d="M87.2 349.6 88.49 348.23 89.47 346.63 90.4 345 92.31 344.98 94.08 345.61 95.88 346.09 97.7 346.5 99.53 346.01 101.48 345.91 103.07 344.57 105 344.4 106.86 344.77 108.77 344.66 110.64 344.99 112.55 344.9 114.4 345.4 116.24 345.98 118.22 345.97 120.05 346.62 122.02 346.63 123.8 347.5 124.06 349.41 125.21 350.96 125.9 352.7 127.29 353.74 128.5 355 130 355.9 130.72 357.53 130.92 359.36 132.36 360.71 132.25 362.66 133.2 364.2 134.77 365.48 136.1 367.04 137.56 368.44 139.4 369.4 140.66 371.09 142.76 371.8 144 373.53 145.7 374.7 147.44 375.98 148.85 377.57 150.35 379.07 151.5 380.9 150.83 382.51 150.27 384.17 148.7 385.29 148.37 387.08 147.11 388.36 146.48 389.99 145.96 391.68 145.05 393.16 144.2 394.66 143.07 396.02 142.61 397.74 141.44 399.08 140.37 400.46 139.57 402 139.24 403.79 138.27 405.23 137.42 406.74 136.77 408.36 135.89 409.85 134.49 411.06 134.51 413.04 133.57 414.5 132.29 415.78 131.97 417.57 130.95 418.99 129.68 420.27 128.75 421.73 128.39 423.51 127.71 425.11 126.29 426.3 125.68 427.94 124.96 429.52 124.28 431.12 123.44 432.64 122.66 434.18 121.41 435.48 120.84 437.13 120.25 438.78 118.83 439.98 118.11 441.56 117.5 443.2 119.18 444.37 120.99 445.26 123 445.7 123.65 447.51 123.42 449.5 123.94 451.34 124.68 453.12 125 455 127.09 454.69 129.2 454.79 131.3 454.6 132.79 455.92 134.4 457.1 135.08 458.78 135.11 460.6 135.01 462.44 135.83 464.09 136.25 465.83 136.5 467.6 136.24 469.42 136.33 471.21 136.53 473 137.58 474.7 136.93 476.56 137.74 478.29 137.6 480.1 139.11 481.74 140.07 483.81 141.75 485.3 141.79 487.11 141.41 488.84 140.7 490.5 139.33 492.55 137.6 494.3 135.5 492.6 134.61 491.04 134.11 489.34 133.85 487.54 133.14 485.91 132.4 484.3 132.74 482.1 133.99 480.18 134.4 478 134.57 476.12 133.99 474.34 133.32 472.57 133.4 470.7 132.36 468.97 131.52 467.12 130.3 465.5 128.36 464.32 126.84 462.61 125 461.3 124.33 459.67 123.21 458.27 122.36 456.73 121.9 455 121.38 453.07 120.38 451.34 119.52 449.55 118.8 447.7 117.48 446.48 116.4 445.01 115.13 443.74 113.54 442.81 112.3 441.5 110.71 440.2 108.57 439.79 107.1 438.3 106.64 436.32 105.07 434.84 105.14 432.63 103.9 431 102.92 428.96 101.25 427.47 99.8 425.8 97.6 425.97 95.6 426.9 93.95 427.52 92.64 428.84 90.79 429.05 89.3 430 87.55 429.23 85.68 429.23 83.78 429.45 82 428.9 83.55 427.29 85.2 425.8 87.13 425.63 88.93 425.03 90.6 423.95 92.5 423.7 94.28 422.38 95.6 420.6 93.84 420.43 92.04 420.42 90.4 419.6 88.52 419.42 86.74 420.02 84.89 420.11 83.1 420.6 81.54 421.56 79.72 421.8 77.91 422.06 76.5 423.41 74.7 423.7 72.72 424.36 71.17 425.73 69.5 426.9 67.64 426.93 65.82 427.21 63.99 427.39 62.2 427.9 60.52 428.55 58.7 428.5 57.03 429.21 55.31 429.68 53.53 429.83 51.75 430 49.61 429.84 47.52 430.06 45.49 430.76 43.4 431 41.78 430.27 39.97 430.06 38.35 429.34 36.81 428.38 35.1 427.9 33.37 427.69 31.8 426.8 30.14 426.33 28.37 426.27 26.7 425.8 25.08 424.32 23.6 422.7 25.4 422.73 27.12 423.13 28.74 424.07 30.58 423.87 32.35 424.03 34 424.8 35.76 425.55 37.57 426.14 39.38 426.72 41.3 426.9 43.21 426.93 45.02 426.11 46.94 426.22 48.81 425.96 50.7 425.8 52.38 425.39 54.11 425.16 55.79 424.72 57.47 424.32 59.1 423.7 60.94 422.74 62.4 421.33 63.93 420.01 65.3 418.5 63.53 417.53 62 416.15 60.1 415.4 58.66 413.64 56.75 412.46 54.9 411.2 52.96 410.52 51.52 408.99 49.7 408.1 50.49 406.53 50.99 404.82 51.91 403.32 52.8 401.8 52.38 400.12 51.6 398.58 50.69 397.11 50.1 395.5 51.17 393.86 52.11 392.14 52.8 390.3 53.27 388.46 54.23 386.76 54.33 384.81 54.9 383 56.54 382.19 58.47 382.32 60.17 381.69 61.89 381.14 63.65 380.71 65.3 379.9 67.3 380.9 69.64 380.88 71.6 382 73.39 381.49 75.29 381.71 77 380.71 78.9 380.9 80.63 379.53 82 377.8 80.3 377.17 79.1 375.65 77.3 375.2 75.96 373.92 74.07 373.65 72.6 372.6 71.57 370.87 69.73 369.93 68.5 368.4 68.59 366.2 69.5 364.2 69.83 362.27 70.1 360.32 70.5 358.4 72.42 358.36 74.35 358.23 76.23 359.08 78.18 358.51 80.09 358.83 82 359 83.78 359.96 85.7 360.67 87.2 362.1 86.04 363.41 85.36 365.07 84.1 366.3 85.78 367.21 87.28 368.4 88.9 369.4 88.97 367.33 89.17 365.27 89.3 363.2 89.24 361.32 88.22 359.74 87.7 358 88.03 355.87 87.8 353.78 87.46 351.69Z"/>
<path fill="#f8e1d9" stroke="none" d="M228.4 462.4 231.5 466.5 235.3 474.9 233.6 480.1 235.7 484.7 227.3 485.3 220 483.9 214.8 481.1 218 474.9 221.1 468.6 225.3 465.5Z"/>
<path fill="#f8e1d9" stroke="none" d="M225.1 443.4 227.9 444.2 228.7 447.3 231.8 449.6 233.4 453.6 231 455.4 227.1 453.6 224.8 449.6 225.6 446.5Z"/>
<path fill="#f8e1d9" stroke="none" d="M219.3 434 220.9 433.5 227.9 440.25 226.3 441.3Z"/>
<path fill="#f8e1d9" stroke="none" d="M219.3 440.25 221.6 441 222.4 444.2 220.1 444.5Z"/>
<path fill="#f8e1d9" stroke="none" d="M220.4 450 224 450.6 223.8 451.4 220.6 451Z"/>
<path fill="#f8e1d9" stroke="none" d="M211 417.6 216.9 418.3 217.7 425.4 216.2 428.8 213 425.4 209.9 422.25Z"/>
<path fill="#f8e1d9" stroke="none" d="M197.4 394.1 202.1 393.3 205.7 397.2 203.6 400.3 199.7 401.1 196.9 397.2Z"/>
<path fill="#f8e1d9" stroke="none" d="M188 392.8 192.5 391.3 192.7 392.3 188.5 393.8Z"/>
<path fill="#d04848" stroke="none" d="M40 275 44.5 276.5 50.8 278.3 57.9 280.1 57.4 282.1 49.9 281.5 43.6 279.5 40.6 277.3Z"/>
<path fill="#d04848" stroke="none" d="M50.3 292.7 52.6 292.4 53.3 294.3 51.6 295.2 50.2 294.4Z"/>
<path fill="#d04848" stroke="none" d="M57.8 290.6 59.6 290.4 60 292.2 58.3 292.7Z"/>
<path fill="#d04848" stroke="none" d="M65.3 292.8 67.8 293.3 68.8 296.6 66.8 297 65 294.8Z"/>
<path fill="#d04848" stroke="none" d="M63 299.5 64.8 300.3 66 305.3 64.8 306.4 63.2 303.5Z"/>
<path fill="#d04848" stroke="none" d="M22.8 203.6 24.6 203.4 25.1 205.2 23.6 206 22.6 205Z"/>
<path fill="#d04848" stroke="none" d="M600.8 470 602.5 469.5 603.5 471 601.5 472Z"/>
<path fill="#dc8072" stroke="none" d="M706.3 154.8 708.2 154.5 708.6 157 707 157.6 706.2 156.5Z"/>
<path fill="#f8e1d9" stroke="none" d="M645.5 209.9 646.7 211.2 645.6 212.7 644.4 211.3Z"/>
</g>
<g fill="none" stroke="#231f20" stroke-width="1.1" stroke-linejoin="round" stroke-linecap="round">
<path d="M53.3 56.8 53.49 55.05 54.7 53.64 54.9 51.9 55.66 49.9 55.66 47.71 56.4 45.7 56.24 43.82 56.03 41.94 56.07 40.05 56.05 38.16 55.6 36.3 55.08 34.49 54.9 32.66 55.59 30.78 55.07 28.97 55.28 27.12 54.9 25.3 54.79 23.45 55.6 21.79 56.24 20.1 56.4 18.3 58.8 17.5 60.7 18.62 62 20.52 64 21.5 65.41 23.09 67.59 23.66 68.95 25.3 71.36 25.23 73.6 26.1 75.7 23.8 75.49 21.84 75.2 19.9 77.6 19.1 77.37 16.78 76.3 14.7 M53.3 56.8 55.6 58.2 57.8 59.44 60.3 59.8 62.08 60.13 63.33 61.55 65 62.1 65.96 63.82 65.81 65.93 66.9 67.6 68.02 69.82 68.2 72.3 69.96 73.78 72.1 74.6 74.08 74.43 76 73.9 78.24 74.99 80.7 75.4 82.04 76.65 83.95 76.77 85.4 77.8 87.48 77.77 89.52 78.27 91.6 78.2 93.67 77.68 95.77 77.37 97.9 77.3 99.89 77.33 101.75 78.25 103.69 78.57 105.7 78.5 107.59 78.74 109.45 78.1 111.35 78.74 113.22 78.27 115.1 78.2 117.03 78.26 118.87 78.8 120.75 79.08 122.69 79.06 124.5 79.8 126.27 80.25 128.1 80.43 129.84 81.03 131.55 81.76 133.4 81.87 135.23 82.02 137 82.5 M53.3 56.8 53.05 58.49 52.01 59.98 51.62 61.64 51.24 63.3 50.96 64.98 50.46 66.61 50.9 68.47 50 70 49.2 71.54 48.87 73.28 47.74 74.68 47.33 76.39 46.54 77.93 45.87 79.53 45.16 81.11 44.24 82.6 43.42 84.13 43.32 85.97 42.5 87.5 41.54 88.97 40.78 90.53 40.55 92.32 40.12 94.01 39.09 95.46 38.17 96.94 37.71 98.63 37.34 100.35 36.17 101.74 35.84 103.48 35 105 33.59 106.27 33.07 108.2 31.62 109.44 30.69 111.07 29.5 112.5 29.27 114.44 30.36 116.2 29.87 118.18 30.5 120 30.22 121.74 29.91 123.47 29.71 125.22 29.07 126.88 28.7 128.6 M137 82.5 138.55 84 139.28 86.05 140.92 87.48 141.7 89.5 140.71 91.07 139.34 92.4 138.95 94.34 137.8 95.8 136.42 97.1 135.73 98.83 134.55 100.25 133.9 102 133.48 103.96 131.99 105.4 131.33 107.24 130.5 109 130.23 110.99 130.29 113.01 130 115 128.41 115.91 127.5 117.5 M158 35.5 158 37.25 157.29 38.88 157.49 40.67 156.4 42.23 156.8 44.05 156.24 45.71 155.63 47.35 155.2 49.03 155.22 50.79 155 52.5 155.4 54.31 156.12 56.01 156.4 57.86 157.3 59.5 158.51 61.2 159.07 63.25 160.2 65 160.86 66.59 161.73 68.09 162.51 69.62 163.2 71.2 164.72 72.4 165.4 74.24 166.63 75.66 167.7 77.2 169.13 78.4 170.7 79.4 170.29 81.05 169.37 82.57 169.14 84.27 168.72 85.92 168.4 87.6 167.71 89.25 166.62 90.64 165.25 91.87 164.7 93.6 165.59 95.39 166.2 97.3 167.89 96.73 169.65 96.72 171.4 96.6 172.5 98.44 172.63 100.65 173.7 102.5 174.09 104.23 175.06 105.77 174.93 107.66 175.9 109.2 176.67 110.92 177.52 112.6 178.1 114.4 178.23 116.27 179.43 117.84 179.6 119.7 181.63 119.7 183.61 120.08 185.6 120.4 187.41 120.62 189.15 119.98 190.94 120.04 192.69 119.51 194.5 119.7 196.7 119.18 198.95 119.03 201.2 118.9 202.02 120.47 203.2 121.8 M377 60 377.67 61.82 377.31 63.76 377.59 65.63 378.27 67.45 378.56 69.32 377.88 71.3 378.62 73.11 378.75 75 379.13 76.77 378.94 78.59 378.85 80.4 379.65 82.12 379.19 83.97 380.01 85.7 380 87.5 379.95 89.59 380.6 91.54 381.57 93.43 381.19 95.58 382 97.5 382.45 99.24 382.53 100.99 382.1 102.75 381.77 104.52 382.79 106.23 381.92 108.02 382.21 109.76 382.5 111.5 M382.5 111.5 381.98 113.31 381.95 115.25 380.73 116.86 380.5 118.75 381.68 120.08 382.13 121.85 383.63 122.99 384.3 124.63 385 126.25 M355 165 356.96 166.07 358.98 167.04 361 168 363.05 168.14 365.06 167.98 367.03 167.52 369 167 370.76 167.17 372.5 167.53 374.21 168.06 376 168 377.63 169.07 379.45 169.81 381 171 383.5 172 M384.5 155.5 384.64 157.47 383.5 159.24 383.89 161.25 383.59 163.15 383 165 383.13 166.75 383.14 168.51 382.88 170.29 383.5 172 M138.75 260.5 136.97 261.68 135 262.5 132.42 262.38 130 261.5 129.31 263.13 129.65 264.92 129.54 266.64 128.59 268.24 128.75 270 128.57 272.29 127.29 274.27 126.9 276.5 M126.9 276.5 127.23 278.22 128.19 279.74 128.24 281.55 128.58 283.26 129.5 284.8 129.07 286.55 129.36 288.39 128.45 290.08 128.6 291.9 130.4 294.6 128.71 295.91 127.65 297.85 125.9 299.1 125.46 301.53 124.1 303.6 123.47 305.23 122.71 306.78 121.4 308 121.51 310.13 121.99 312.2 122.3 314.3 121 316.07 120.5 318.2 M28.7 128.6 28.72 130.7 28.57 132.78 28.52 134.87 27.9 136.9 26.8 138.77 26.58 140.98 25.6 142.9 24.83 144.96 23.27 146.64 22.7 148.8 21.77 150.61 20.7 152.33 19.7 154.1 20.31 156.29 20.4 158.54 20.4 160.8 21.52 162.7 22.78 164.54 23.4 166.7 23.49 168.6 23.1 170.46 22.57 172.3 22.7 174.2 22.05 176.13 22.02 178.21 21.2 180.1 21.46 182 21.47 183.95 22.14 185.76 22.7 187.6 23.16 189.48 24.21 191.18 24.76 193.03 24.9 195 25.46 196.96 25.4 199 25.6 201 26.86 202.41 27.9 204 28.2 206.13 29.69 207.81 30.1 209.9 30.18 211.6 30.61 213.28 30.5 215 31.16 216.74 30.77 218.7 31.34 220.46 32 222.2 32.71 223.91 32.93 225.69 32.84 227.5 32.9 229.3 33.85 231 33.91 233.03 35.36 234.54 35.6 236.5 36.4 238.23 36.89 240.07 37.98 241.69 38.3 243.6 39.19 245.39 40.06 247.19 41.09 248.92 41.8 250.8 42.1 252.95 43.07 254.91 43.6 257 42.94 258.93 43.13 261.01 42.58 262.95 41.97 264.89 41.8 266.9 43.45 267.95 44.5 269.6 46.65 269.55 48.73 269.99 50.8 270.5 52.74 271.66 55.1 271.85 57 273.1 58.67 274.56 60.51 275.84 61.9 277.6 63.15 279.17 64.23 280.88 65.9 282.13 66.9 283.9 67.88 285.86 68.32 287.97 68.7 290.1 69.93 291.59 71.61 292.53 73.1 293.7 74.36 294.93 75.48 296.29 76.78 297.5 77.6 299.1 79.11 300.66 80.08 302.58 81.2 304.4 81.56 306.36 81.97 308.32 81.72 310.34 81.47 312.36 82.1 314.3 M383.5 172 384.84 173.62 384.93 175.87 386.25 177.5 387.14 179.05 387.26 180.79 387.2 182.57 387.61 184.24 388.6 185.77 388.75 187.5 389.18 189.16 390.06 190.71 389.97 192.51 390.44 194.16 390.41 195.94 391.25 197.5 391.56 199.53 392.39 201.44 392.22 203.57 393 205.5 M393 205.5 393.27 207.8 394 210 394.68 211.67 396.07 212.95 396.79 214.59 397.5 216.25 M397.5 216.25 398.43 217.82 400 218.75 401.17 220.08 402.19 221.56 403.75 222.5 403.22 224.41 402.5 226.25 404.09 227.16 404.92 228.83 406.37 229.88 407.5 231.25 407.76 233.25 408.75 235 M333.75 311.25 335.18 312.41 337.01 312.9 338.49 313.97 340 315 341.75 315.66 343.47 316.39 345 317.5 346.94 317.41 348.81 317.77 350.59 318.62 352.5 318.75 354.5 319.44 356.27 320.58 357.99 321.84 360 322.5 361.96 322.68 363.74 323.53 365.6 324.08 367.5 324.5 369.46 324.59 371.35 324.96 373.14 325.74 375 326.25 377.02 326.09 379.02 326.25 380.96 327.18 383.03 326.46 385 327 386.95 326.8 388.75 326 390.73 325.91 392.5 325 394.49 324.71 396.52 325.19 398.49 324.52 400.5 324.55 402.5 324.5 404.34 325.1 406.25 325.39 408.15 325.69 410 326.25 412.01 327.3 413.75 328.75 M420 357.2 421.49 358.39 422.03 360.38 423.6 361.5 424.35 363.51 425.76 365.18 426.5 367.2 426.82 369.01 426.99 370.84 427.59 372.59 427.9 374.4 427.11 376.27 426.27 378.11 425.8 380.1 426.04 381.89 425.71 383.74 426.53 385.48 426.5 387.3 425.89 389.25 425.37 391.23 424.3 393 424.5 395.15 424.3 397.3 M233 350 234.85 351.35 235.97 353.36 237.5 355 238.54 356.64 239.86 358.03 240.93 359.65 242.17 361.12 243.56 362.46 245 363.75 245.88 365.53 247.14 366.98 248.57 368.28 250.01 369.57 250.96 371.29 252.5 372.5 253.38 374.36 255.3 375.38 256.52 376.97 257.5 378.75 258.3 380.54 258.54 382.45 258.33 384.47 259.11 386.26 259.73 388.09 260 390 261.3 391.49 262.8 392.74 264.4 393.87 265.92 395.09 267.5 396.25 268.76 397.79 270.55 398.69 271.72 400.34 273.61 401.12 275 402.5 276.87 403.21 278.45 404.47 280.06 405.67 282 406.25 283.24 404.64 284.23 402.84 285.5 401.25 286.46 399.76 286.82 397.97 287.63 396.4 288.75 395 290.83 394.17 293.01 393.57 295 392.5 296.82 393.18 298.8 392.49 300.65 392.92 302.55 392.87 304.37 393.57 306.25 393.75 307.58 395.29 309.4 396.22 310.8 397.67 312.5 398.75 313.7 400.05 315.19 401.06 316.43 402.32 317.76 403.49 318.75 405 319.12 406.91 320.21 408.52 320.83 410.32 321.3 412.19 322.5 413.75 323.5 415.39 323.6 417.42 324.4 419.15 325.77 420.63 326.25 422.5 327.44 423.87 328.02 425.65 329.12 427.09 329.97 428.69 331.25 430 332.61 431.36 333.62 432.96 334.8 434.44 335.5 436.25 335.58 438.04 336.23 439.73 336.73 441.44 336.26 443.32 337 445 337.83 446.51 338.98 447.83 339.87 449.3 340.57 450.9 341.69 452.23 342.5 453.75 344.42 454.59 346.45 455.23 347.94 456.92 350 457.5 351.83 458.25 353.8 458.6 355.72 459.1 357.5 460 359.26 460.96 361.37 460.89 363.2 461.65 365 462.5 366.6 463.17 368.21 463.82 370 463.75 371.81 462.87 373 461.25 372.81 459.36 372.11 457.55 372.28 455.6 372.12 453.7 371.73 451.85 371.25 450 370.79 448.13 370.28 446.27 370.09 444.34 369.5 442.5 370.54 440.9 370.46 438.92 371.01 437.15 371.5 435.36 372.5 433.75 373.39 431.98 375.31 431.1 376.12 429.26 377.22 427.67 379.11 426.77 380 425 381.65 424.22 382.61 422.52 384.42 421.96 385.96 421.05 387.37 419.95 388.61 418.63 390 417.5 391.47 416.14 393.17 415.16 395.09 414.52 396.88 413.67 398.25 412.15 400 411.25 401.31 410.1 402.62 408.97 404.09 408.06 405.86 407.61 407.14 406.42 408.34 405.12 410 404.5 411.69 403.38 413.82 403.13 415.39 401.77 417.2 400.9 418.79 399.64 420.91 399.42 422.61 398.37 424.3 397.3 M479 284 478.43 286.31 477.5 288.5 476.57 290.81 475.2 292.9 474.5 294.56 474.34 296.35 474 298.1 473.23 299.72 473 301.5 M473 301.5 471.87 302.91 471.33 304.72 470 306 468.88 307.7 468.29 309.65 467.5 311.5 466.48 313.08 465.05 314.35 463.98 315.89 463 317.5 463.12 319.38 463.68 321.22 463.3 323.13 463.5 325 462.17 326.51 460.99 328.11 460.25 330 460.52 332.13 461.57 334 462.25 336 460.9 338.9 M460.9 338.9 462.04 340.2 463.17 341.51 463.78 343.23 465.2 344.3 465.09 346.25 465.73 348.15 465.6 350.1 464.5 352.37 463 354.4 462.34 356.74 460.9 358.7 460.02 360.96 458.7 363 457.61 365.13 456.6 367.3 455.9 369.14 455.63 371.04 455.8 373 M483.8 372.3 483.95 374.83 484.5 377.3 485.54 378.82 486.04 380.57 486.6 382.3 487.38 384.16 488.8 385.6 490.5 386.23 492.29 385.62 494 386 496.13 385.86 498.19 386.5 500.3 386.6 M424.3 397.3 426.43 397.8 428.6 398 430.39 398.31 432.16 398.76 434 398.59 435.8 398.8 437.52 399.07 439.27 399.19 440.9 399.99 442.69 399.87 444.4 400.2 446.16 400.65 447.97 400.78 449.8 400.88 451.5 401.6 453.32 402.53 455.49 402.14 457.3 403.1 459.1 404.06 461.06 404.62 463 405.2 464.75 406.55 466.79 407.42 468.7 408.5 470.62 408.08 472.53 407.58 474.5 407.4 476.3 407.16 477.95 406.17 479.81 406.21 481.6 405.9 483.58 406.04 485.43 405.13 487.4 405.2 489.15 404.86 490.9 404.5 491.29 406.64 492.4 408.5 494.21 407.99 496 407.4 497.54 405.7 499.5 404.5 500.3 401.6 498.72 400.34 497.4 398.8 498.01 396.62 498.8 394.5 499.75 393.06 500.48 391.46 501.7 390.2 500.97 388.41 500.3 386.6 M500.3 386.6 501.95 385.74 503.61 384.91 505.5 384.7 M505.5 384.7 507.32 384.33 509.16 384.18 511 384 513.06 383.68 515.12 383.39 517.2 383.2 518.74 382.38 520.3 381.6 M520.3 381.6 519.64 379.3 519.6 376.9 517.2 374.6 516.5 372.66 516.4 370.6 M547.5 325 547.63 326.8 547.79 328.6 548.69 330.24 548.71 332.06 549.23 333.78 549.64 335.52 549.81 337.32 550.22 339.06 550.5 340.83 551.25 342.5 551.73 344.35 551.4 346.33 552.57 348.06 552.5 350 552.21 351.88 551.91 353.76 551.8 355.66 551.25 357.5 552.16 359.09 552.65 360.8 553 362.57 553.43 364.31 554 366 M554 366 555.28 367.37 556.09 369.05 557.1 370.6 M598.6 367.5 598.9 370.8 600.2 370.8 600.83 368.71 600.25 366.49 600.9 364.4 602.5 362.8 604.34 363.07 606.16 362.96 607.96 362.15 609.8 362.5 M520.3 381.6 522.34 380.88 524.48 380.91 526.6 380.8 528.65 380.17 530.85 380.66 532.9 380 534.94 380.58 536.99 381.09 539.1 381.3 540.59 382.17 542.17 382.83 543.7 383.62 545.4 384 547.21 384.66 548.78 385.69 550.1 387.1 551 388.58 551.6 390.2 553.54 390.99 555.6 391.3 557.44 390.34 559.5 390.2 560.87 388.66 562.65 387.62 564.2 386.3 566.39 385.05 568.1 383.2 570.09 382.6 572 381.8 574.25 382.64 576.5 383.5 578.34 384.55 579.99 385.82 581.3 387.5 582.35 389.24 583.45 390.95 585.1 392.2 586.65 393.91 588.5 395.3 590.18 396.96 592.3 398 593.04 399.8 593.12 401.82 594.2 403.5 594.39 405.71 593.25 407.78 593.5 410 593.54 412.12 594.87 413.91 595 416 595.93 417.91 595.98 420.12 597 422 597.99 423.8 599.45 425.19 601 426.5 602.07 428.07 603.25 429.56 604.5 431 605.73 432.39 606.62 434.02 607.69 435.53 608.8 437 609.59 438.85 611.02 440.27 612 442 613.45 443.28 614.2 445.1 615.5 446.5 617.22 447.89 619 449.2 620.84 450.13 622.43 451.37 623.7 453 624.26 454.73 625.38 456.1 626.85 457.27 627.4 459 629.12 460.53 631.1 461.7 632.6 463.5 630.81 464.37 628.9 464.9 627.12 464.98 625.37 464.92 623.7 464.2 622.08 465.02 620.74 466.26 619.2 467.2 617.42 468.41 615.5 469.4 612.9 470.2 614 471.7 615.83 472.29 617.7 472.7 619.83 471.51 622.2 470.9 623.82 469.7 625.78 469.1 627.4 467.9 629.21 467.36 631.01 466.77 632.6 465.7 634.17 463.86 636.3 462.7 637.23 460.75 638.94 459.36 640 457.5 640.84 455.89 642.28 454.69 643 453 643.84 450.83 644.5 448.6 644.13 446.22 643 444.1 642.91 442.05 643.17 440.05 643.8 438.1 643.24 436.36 643.05 434.58 643.31 432.76 643.48 430.95 643 429.2 641.66 427.37 640.55 425.42 640 423.2 638.67 421.98 637.97 420.36 636.9 418.98 636.3 417.3 635.35 415.81 634.28 414.41 633.17 413.02 632.6 411.3 631.79 409.21 630.63 407.28 629.6 405.3 629.49 403.4 628.9 401.6 630.4 399.4 629.33 397.95 628.13 396.58 627.4 394.9 626.39 393.32 625.26 391.82 624.3 390.19 622.9 388.9 621.6 387.49 620.76 385.69 619.2 384.5 618.36 382.89 617.36 381.4 616.2 380 615.42 378.46 614.71 376.88 614.68 375.04 613.3 373.74 613 372 612.69 370.04 612.01 368.21 611 366.5 610.71 364.41 609.8 362.5 M609.8 362.5 609.84 360.62 610.05 358.73 609.38 356.88 609.5 355 609.79 353.14 610.78 351.53 611.37 349.77 612.02 348.04 612.5 346.25 612.61 343.95 613.32 341.8 614.2 339.7 M571.5 295.4 572.59 296.94 573.85 298.37 575.31 299.62 576.1 301.4 577.82 301.89 579.26 302.86 580.85 303.58 582.1 304.9 583.7 305.6 584.81 307.04 585.92 308.48 587.39 309.6 588.29 311.23 589.7 312.4 591 313.65 592.13 315.06 593.16 316.55 594.39 317.87 595.6 319.2 596.64 320.87 598.44 321.76 599.42 323.48 601.01 324.59 602.4 325.9 603.07 327.52 604.09 328.89 605.15 330.21 606.25 331.51 607.5 332.7 608.37 334.55 609.81 336.03 610.8 337.8 612.3 339.1 614.2 339.7 M614.2 339.7 615.41 338.31 616.1 336.51 617.47 335.25 618.44 333.67 620.24 332.74 621 331 622.4 329.68 623.79 328.35 625.16 327 626.55 325.67 627.8 324.2 628.83 322.7 630.52 321.87 631.87 320.7 632.9 319.2 633.96 317.43 635.98 316.6 637.1 314.9 636.3 312.4 636.78 310.38 637.24 308.35 638 306.4 639.54 305.11 641.13 303.88 642.5 302.4 M642.5 302.4 644.5 301.5 646.33 301.13 648.2 301 650.8 302 651.24 300.23 651.3 298.4 651.56 296 652.3 293.7 653.53 291.85 654.9 290.1 655.82 288.55 657.27 287.53 658.6 286.4 660.51 284.84 662.75 283.8 665.9 283.3 667.8 285.4 668.29 283.76 669 282.2 670.13 280.45 671.1 278.6 672.72 277.62 673.7 276 675 274.4 676.8 273.4 678.72 272.12 680 270.2 679.97 268.45 680.54 266.75 680.5 265 679.67 263.03 679.4 260.9 678.1 259.05 676.8 257.2 675.32 255.85 674.74 253.81 673.2 252.5 672.13 250.22 670.4 248.4 M557 294.5 557.15 292.45 558.36 290.73 558.75 288.75 560.22 287.65 561.87 286.86 563.4 285.87 565 285 566.29 283.79 567.47 282.47 568.61 281.11 570.25 280.25 571.25 278.75 572.9 277.97 574.49 277.07 576.07 276.15 577.5 275 579.21 274.3 580.69 273.23 581.95 271.79 583.75 271.25 585.08 269.64 586.63 268.2 587.5 266.25 588.49 264.73 589 263 M481.2 276.5 481.24 278.47 480.5 280.3 479.72 282.14 479 284 M486.4 267.6 485.83 269.52 484.9 271.3 483.44 272.94 482.7 275 481.2 276.5 M450.8 208.8 451.1 210.7 450.31 212.6 450.8 214.5 451.46 216.55 452.44 218.45 453.7 220.2 454.6 221.89 456.41 222.79 457.4 224.4 459.14 226.19 460.1 228.5 461.14 229.96 462.6 231 464.8 233.5 467.05 233.82 469.3 234.1 470.08 236.23 470 238.5 469.25 240.17 468.27 241.68 467 243 467.63 245.18 469.32 246.84 470 249 471.24 250.18 472.39 251.45 474.22 251.92 475.2 253.4 476.49 254.72 478.31 255.24 479.7 256.4 480.77 257.99 481.26 259.83 481.9 261.6 483.76 263.16 485.7 264.6 486.4 267.6 M445.8 205.2 448.7 206.2 450.8 208.8 M450.8 154.3 452.06 155.8 452.67 157.67 453.7 159.3 453.99 160.99 454.09 162.71 454.4 164.4 455.58 165.85 457.15 166.98 458 168.7 459.97 169.39 461.5 170.8 M461.5 170.8 462.99 172.57 464.4 174.4 465.15 176 465.07 177.89 466.1 179.4 465.67 181.11 465.26 182.83 464.4 184.4 462.45 185.21 460.96 186.65 459.4 188 457.09 188.73 455.1 190.1 455.21 191.85 454.29 193.45 454.4 195.2 455.19 197.11 456.5 198.7 456.01 200.92 455.1 203 453.39 204.75 451.8 206.6 450.8 208.8 M436.4 98.5 435.96 100.31 435.95 102.17 435.88 104.03 435.08 105.79 435.01 107.65 434.9 109.5 434.11 111.34 432.6 112.64 431.62 114.34 430.2 115.7 430.05 117.5 429.99 119.3 430.09 121.09 430.25 122.87 430.44 124.65 430.77 126.42 431 128.2 431.98 129.89 433.71 130.83 434.83 132.39 436.57 133.32 437.91 134.65 439.26 135.97 440.3 137.6 441.73 138.77 443.15 139.95 444.25 141.43 445.01 143.22 446.82 144.03 448.06 145.37 449 147 449.05 148.92 449.6 150.72 450.68 152.39 450.8 154.3 M405.8 62.9 407.59 63.91 409.66 64.22 411.5 65.1 413.53 65.53 415.33 66.59 417.3 67.2 419.58 66.91 421.6 65.8 424.09 66.25 426.6 66.5 428.15 68 430.2 68.7 431.78 70.08 433.75 70.8 435.52 71.18 437.3 70.8 438.62 71.94 439.96 73.04 441.6 73.7 443.81 73.71 445.9 74.4 448.3 73.51 450.2 71.8 452.27 72.74 454.5 73.2 456.3 73.4 458.09 73.57 459.87 73.94 461.7 73.7 463.66 74.01 465.6 74.52 467.6 74.6 M458.3 99.8 459.8 101.59 461.5 103.2 463.34 103.71 465.05 104.68 467 104.8 469.01 105.52 471.02 106.26 473.2 106.3 474.89 107.11 476.85 107.15 478.53 107.97 480.25 108.7 482 109.45 483.87 109.79 485.7 110.25 487.44 111.68 488.9 113.4 490.4 115.39 492 117.3 492.55 119.33 493.5 121.2 495.1 123.2 497.5 121.2 498.6 119.22 499.8 117.3 502.9 116.5 505.21 117.12 507.6 117.3 509.31 117.88 510.8 118.9 M503.9 224.4 503.94 226.66 504.17 228.9 504.7 231.1 505.11 233.05 504.64 235.05 505 237 504.59 238.81 503.47 240.31 502.94 242.07 502.1 243.7 501.08 245.58 501.12 247.77 500.3 249.7 M486.4 267.6 486.36 265.75 486.4 263.9 488.78 263.53 490.9 262.4 492.76 262.69 494.6 263.1 495.35 261.25 496.1 259.4 497.84 257.75 499.1 255.7 499.55 253.71 500.11 251.74 500.3 249.7 M500.3 249.7 502.62 248.76 505 248 506.77 248.15 508.3 249.11 510 249.5 511.75 249.04 513.12 247.86 514.9 247.48 516.25 246.25 518.71 246.9 521.25 247 522.2 245.3 523.54 243.94 525.28 242.93 526.25 241.25 528.08 239.93 530 238.75 531.17 237.02 532.2 235.19 533.75 233.75 534.66 231.65 536.25 230 537.93 228.46 540 227.5 540.81 225.71 540.75 223.75 M525 88 525.57 89.93 526.6 91.67 527.4 93.5 529.49 93.89 531.3 95 533.6 93.5 534.35 95.27 535.43 96.89 535.97 98.76 536.8 100.5 539.23 100.59 541.5 99.7 543.8 102.1 542.99 104.04 542.25 106 544.08 106.27 545.68 107.09 547.05 108.45 548.98 108.46 550.55 109.36 552.33 109.75 553.87 110.7 555.5 111.43 557.1 112.25 M557.6 174.1 560 174.6 561.94 174.91 563.9 175 565.75 174.07 567.8 173.8 569.15 172.6 570.74 171.75 572.05 170.5 573.51 169.46 575.1 168.6 576.82 167.62 578.32 166.34 580.12 165.47 581.4 163.9 582.95 162.99 584.83 162.91 586.19 161.55 588.07 161.44 589.6 160.5 M574.5 234.5 575.14 232.16 576.25 230 576.15 228.05 576.9 226.25 578.2 224.56 578.75 222.5 579.72 220.97 581.25 220 582.24 218.25 582.5 216.25 583.74 214.37 585.6 213.1 586.85 211.55 588.1 210 589.43 208.2 591.25 206.9 591.99 204.62 593.1 202.5 593.39 199.97 594 197.5 593.15 195.94 593.45 194.1 592.75 192.5 593.5 189.6 M540.75 223.75 542.5 224.77 544.51 225.22 546.25 226.25 547.57 227.59 549.62 227.72 550.98 229 552.5 230 554.35 229.53 555.72 228.1 557.5 227.5 559.16 228.28 560.5 229.58 562.31 230.1 563.75 231.25 565.28 229.82 566.84 228.42 568.75 227.5 570.15 229.04 572 230 573.02 231.4 573.35 233.17 574.5 234.5 M574.5 234.5 575.43 236.4 576.37 238.3 576.8 240.4 578.14 241.67 579 243.32 580.2 244.7 581.73 246.65 583.8 248 M583.8 248 582.55 249.45 581.38 250.97 580.05 252.34 578.5 253.5 576.9 254.46 575.49 255.65 574.02 256.78 573.11 258.54 571.5 259.5 570.13 260.7 568.61 261.67 566.99 262.49 565.51 263.52 563.9 264.35 562.5 265.5 M583.8 248 585.08 249.42 586.9 250 588.72 250.47 590.6 250.6 591.82 249.22 593.76 248.85 595 247.5 596.95 246.36 598.75 245 600.75 244.74 602.5 243.75 604.4 241.9 606.9 241.25 607.5 239.38 608.1 237.5 608.07 234.95 608.75 232.5 609.15 230.75 609.55 229 610.6 227.5 611.22 225.16 612.5 223.1 615 222.5 616.9 221.25 617.81 219.37 618.75 217.5 621.25 216.25 622.05 214.6 623.1 213.1 624.72 211.85 625.6 210 626.07 207.82 626.25 205.6 628.2 205.75 630 205 632.04 205.69 633.75 207 M611.9 202.3 612.19 204.26 611.95 206.18 610.99 208.04 611.25 210 613.34 208.7 615 206.9 617.05 206.3 618.75 205 620.78 204.35 622.5 203.1 624.36 202.71 626.25 202.5 628.04 201.37 630 200.6 631.16 201.94 632.5 203.1 633.44 204.95 633.75 207 M633.75 207 635.6 206.5 638.25 207 640.9 208.8 642.95 209.46 645 210.1 646.6 212.75 645.5 215.9 643.8 218.8 645.22 220.28 647.1 221.1 650.2 221.6 651.86 222.56 653.4 223.7 656.5 224.75 657.81 226.14 659.6 226.8 661.43 226.17 662.75 224.75 665.9 223.7 667.23 222.48 669 222.1 670.67 222.58 672.4 222.4 M673.2 213 674.2 215.9 673.7 219 672.65 220.55 672.4 222.4 M672.4 222.4 671.36 224.2 671.52 226.42 670.4 228.2 669.81 230.24 669.3 232.31 668.9 234.4 668.48 236.53 668.06 238.66 667.3 240.7 668.55 242.47 668.9 244.6 669.62 246.51 670.4 248.4 M661.5 191.9 662.24 193.59 662.91 195.29 663.3 197.1 664.64 198.75 666.13 200.27 667.31 202.07 669 203.4 670.48 204.75 671.66 206.43 673.4 207.5 M673.4 207.5 673.9 209.32 674 211.2 673.2 213 M673.4 207.5 674.32 205.99 675.27 204.49 676.04 202.9 676.8 201.3 677.9 198.2 678.69 195.97 680 194 680.96 192.01 680.72 189.73 681.5 187.7 681.83 185.84 681.38 184.04 681.3 182.21 681 180.4 680.88 178.31 680.5 176.25 678.62 175.61 676.8 174.8 M665.5 163.5 664.33 165.63 663.8 168 663.15 169.61 662.77 171.27 662.7 173 662.91 174.81 664.35 176.17 664.5 178 666.29 179.51 668.1 181 670.7 183.1 669.79 185.18 668.1 186.7 666.58 187.66 665.64 189.18 664.5 190.5 661.5 191.9 M589.6 160.5 591.37 159.68 593.16 158.93 595.04 158.39 596.78 157.5 598.6 156.8 M598.6 156.8 599.87 155.53 600.98 154.14 601.87 152.58 602.64 150.91 604.1 149.8 605.1 148.12 606.36 146.68 608 145.6 607.12 143.33 605.5 141.5 604.16 139.46 602.7 137.5 604.51 136.19 606.22 134.76 608 133.4 609.81 133.44 611.42 132.4 613.3 132.85 614.97 132.14 616.7 131.73 618.45 131.47 620.24 131.42 621.98 131.09 623.62 130.21 625.41 130.16 627.22 130.22 628.83 129.15 630.57 128.83 632.4 129 632.53 127.18 633.29 125.55 634.22 123.98 634.5 122.2 635.25 120.05 636.9 118.44 638 116.5 639.48 114.94 640.42 113.06 641.07 111.01 642.3 109.3 644.04 107.9 645.36 106.13 646.6 104.3 648.17 103.38 649.49 102.14 650.88 100.98 652.4 100 M668.8 96.1 669.15 97.99 669.93 99.78 669.93 101.74 670.4 103.6 670.63 105.87 672.12 107.74 672.4 110 672.65 111.95 673.09 113.86 673.42 115.8 673.9 117.7 674.73 119.42 675.8 121 676.21 123.12 676.88 125.14 678 127 678.71 129.15 679.34 131.32 679.5 133.6 M680.9 164.5 682.4 163.48 684.05 162.89 685.77 162.49 687.5 162.1 689.28 161.07 691.4 160.79 692.96 159.25 695 158.8 696.51 157.78 698.21 157.18 700.08 157.01 701.6 156 704.6 154.8 M704.6 154.8 705.3 157.4 703.9 158.84 702.52 160.28 701.6 162.1 700.29 163.23 698.81 164.09 697.1 164.61 695.9 165.9 693.99 166.68 692.46 167.98 691.29 169.79 689.4 170.6 687.75 171.31 685.91 171.56 684.45 172.69 682.8 173.4 680.8 173.87 678.83 174.45 676.8 174.8 M704.6 154.8 706.36 153.76 708.1 152.7 709.08 151.13 710.98 150.44 711.9 148.8 M711.9 148.8 714.1 149.9 715.5 151.8 717.4 151.2 719 150.2 720 148.6 722.11 148.91 724 149.9 725.87 149 727.9 148.6 727.2 146.35 727.3 144 727.02 142.2 726.61 140.42 726 138.7 724.36 137.53 723.1 135.9 721.4 134.8 719.46 135.22 717.47 135.2 715.5 135.4 713.5 132.8 713.93 130.52 714.1 128.2 712.42 127.36 710.9 126.25 710.82 124.22 711.1 122.2 M690.5 90.4 690.81 92.46 691.22 94.5 691.1 96.6 690.19 98.31 690.22 100.3 689.15 101.96 688.63 103.79 688.4 105.7 688 107.49 687.77 109.3 687.86 111.15 687.2 112.91 687.41 114.77 687.47 116.6 687.1 118.4 687.19 120.37 687.93 122.28 687.95 124.26 687.9 126.25 688.2 127.99 688.21 129.75 688 131.5 M694.6 84.4 695.97 83.19 696.69 81.53 697.6 80 698.5 77.94 699.03 75.74 700.1 73.75 699.76 71.89 699.59 70.02 699.53 68.13 699.5 66.25 700.19 64.57 700 62.73 700.69 61.05 700.63 59.24 701 57.5 701.78 55.84 701.79 53.97 702.44 52.27 703.17 50.59 703.25 48.75 703.61 47.02 704.25 45.39 705.32 43.93 705.57 42.15 706.4 40.6 708.9 41.25 710.1 43.75 711.58 42.72 713.14 41.79 714.5 40.6 717.6 39.4 719.62 40.74 722 41.25 723.57 42.14 725.1 43.1 725.37 44.88 726.43 46.44 726.29 48.34 727 50 727.95 51.77 728.49 53.67 729.16 55.53 729.5 57.5 729.92 59.3 730.4 61.08 730.98 62.82 732 64.4 732.9 65.98 733.9 67.5 736.4 66.9 736.81 69.13 737.6 71.25 739.7 72.42 742 73.1 743.64 74.59 745.4 75.96 747 77.5 746.08 78.99 745.54 80.67 744.65 82.18 743.9 83.75 742.64 85.2 741.01 86.34 740.1 88.1 738.83 89.4 736.95 89.86 735.75 91.25 734.55 92.73 734.22 94.65 733.25 96.25 731.95 98.39 730.75 100.6 728.98 100.87 727.6 102 726.23 103.38 725.16 105.06 723.12 105.77 722.1 107.5 720.7 108.83 719.69 110.54 718.2 111.77 716.7 113 715.92 114.67 714.64 115.9 713.24 117.04 712.1 118.4 711.94 120.39 711.1 122.2"/>
<path stroke-width="0.95" d="M87.2 349.6 88.49 348.23 89.47 346.63 90.4 345 92.31 344.98 94.08 345.61 95.88 346.09 97.7 346.5 99.53 346.01 101.48 345.91 103.07 344.57 105 344.4 106.86 344.77 108.77 344.66 110.64 344.99 112.55 344.9 114.4 345.4 116.24 345.98 118.22 345.97 120.05 346.62 122.02 346.63 123.8 347.5 124.06 349.41 125.21 350.96 125.9 352.7 127.29 353.74 128.5 355 130 355.9 130.72 357.53 130.92 359.36 132.36 360.71 132.25 362.66 133.2 364.2 134.77 365.48 136.1 367.04 137.56 368.44 139.4 369.4 140.66 371.09 142.76 371.8 144 373.53 145.7 374.7 147.44 375.98 148.85 377.57 150.35 379.07 151.5 380.9 150.83 382.51 150.27 384.17 148.7 385.29 148.37 387.08 147.11 388.36 146.48 389.99 145.96 391.68 145.05 393.16 144.2 394.66 143.07 396.02 142.61 397.74 141.44 399.08 140.37 400.46 139.57 402 139.24 403.79 138.27 405.23 137.42 406.74 136.77 408.36 135.89 409.85 134.49 411.06 134.51 413.04 133.57 414.5 132.29 415.78 131.97 417.57 130.95 418.99 129.68 420.27 128.75 421.73 128.39 423.51 127.71 425.11 126.29 426.3 125.68 427.94 124.96 429.52 124.28 431.12 123.44 432.64 122.66 434.18 121.41 435.48 120.84 437.13 120.25 438.78 118.83 439.98 118.11 441.56 117.5 443.2 119.18 444.37 120.99 445.26 123 445.7 123.65 447.51 123.42 449.5 123.94 451.34 124.68 453.12 125 455 127.09 454.69 129.2 454.79 131.3 454.6 132.79 455.92 134.4 457.1 135.08 458.78 135.11 460.6 135.01 462.44 135.83 464.09 136.25 465.83 136.5 467.6 136.24 469.42 136.33 471.21 136.53 473 137.58 474.7 136.93 476.56 137.74 478.29 137.6 480.1 139.11 481.74 140.07 483.81 141.75 485.3 141.79 487.11 141.41 488.84 140.7 490.5 139.33 492.55 137.6 494.3 135.5 492.6 134.61 491.04 134.11 489.34 133.85 487.54 133.14 485.91 132.4 484.3 132.74 482.1 133.99 480.18 134.4 478 134.57 476.12 133.99 474.34 133.32 472.57 133.4 470.7 132.36 468.97 131.52 467.12 130.3 465.5 128.36 464.32 126.84 462.61 125 461.3 124.33 459.67 123.21 458.27 122.36 456.73 121.9 455 121.38 453.07 120.38 451.34 119.52 449.55 118.8 447.7 117.48 446.48 116.4 445.01 115.13 443.74 113.54 442.81 112.3 441.5 110.71 440.2 108.57 439.79 107.1 438.3 106.64 436.32 105.07 434.84 105.14 432.63 103.9 431 102.92 428.96 101.25 427.47 99.8 425.8 97.6 425.97 95.6 426.9 93.95 427.52 92.64 428.84 90.79 429.05 89.3 430 87.55 429.23 85.68 429.23 83.78 429.45 82 428.9 83.55 427.29 85.2 425.8 87.13 425.63 88.93 425.03 90.6 423.95 92.5 423.7 94.28 422.38 95.6 420.6 93.84 420.43 92.04 420.42 90.4 419.6 88.52 419.42 86.74 420.02 84.89 420.11 83.1 420.6 81.54 421.56 79.72 421.8 77.91 422.06 76.5 423.41 74.7 423.7 72.72 424.36 71.17 425.73 69.5 426.9 67.64 426.93 65.82 427.21 63.99 427.39 62.2 427.9 60.52 428.55 58.7 428.5 57.03 429.21 55.31 429.68 53.53 429.83 51.75 430 49.61 429.84 47.52 430.06 45.49 430.76 43.4 431 41.78 430.27 39.97 430.06 38.35 429.34 36.81 428.38 35.1 427.9 33.37 427.69 31.8 426.8 30.14 426.33 28.37 426.27 26.7 425.8 25.08 424.32 23.6 422.7 25.4 422.73 27.12 423.13 28.74 424.07 30.58 423.87 32.35 424.03 34 424.8 35.76 425.55 37.57 426.14 39.38 426.72 41.3 426.9 43.21 426.93 45.02 426.11 46.94 426.22 48.81 425.96 50.7 425.8 52.38 425.39 54.11 425.16 55.79 424.72 57.47 424.32 59.1 423.7 60.94 422.74 62.4 421.33 63.93 420.01 65.3 418.5 63.53 417.53 62 416.15 60.1 415.4 58.66 413.64 56.75 412.46 54.9 411.2 52.96 410.52 51.52 408.99 49.7 408.1 50.49 406.53 50.99 404.82 51.91 403.32 52.8 401.8 52.38 400.12 51.6 398.58 50.69 397.11 50.1 395.5 51.17 393.86 52.11 392.14 52.8 390.3 53.27 388.46 54.23 386.76 54.33 384.81 54.9 383 56.54 382.19 58.47 382.32 60.17 381.69 61.89 381.14 63.65 380.71 65.3 379.9 67.3 380.9 69.64 380.88 71.6 382 73.39 381.49 75.29 381.71 77 380.71 78.9 380.9 80.63 379.53 82 377.8 80.3 377.17 79.1 375.65 77.3 375.2 75.96 373.92 74.07 373.65 72.6 372.6 71.57 370.87 69.73 369.93 68.5 368.4 68.59 366.2 69.5 364.2 69.83 362.27 70.1 360.32 70.5 358.4 72.42 358.36 74.35 358.23 76.23 359.08 78.18 358.51 80.09 358.83 82 359 83.78 359.96 85.7 360.67 87.2 362.1 86.04 363.41 85.36 365.07 84.1 366.3 85.78 367.21 87.28 368.4 88.9 369.4 88.97 367.33 89.17 365.27 89.3 363.2 89.24 361.32 88.22 359.74 87.7 358 88.03 355.87 87.8 353.78 87.46 351.69Z"/>
<path stroke-width="0.7" d="M228.4 462.4 231.5 466.5 235.3 474.9 233.6 480.1 235.7 484.7 227.3 485.3 220 483.9 214.8 481.1 218 474.9 221.1 468.6 225.3 465.5Z"/>
<path stroke-width="0.7" d="M225.1 443.4 227.9 444.2 228.7 447.3 231.8 449.6 233.4 453.6 231 455.4 227.1 453.6 224.8 449.6 225.6 446.5Z"/>
<path stroke-width="0.7" d="M219.3 434 220.9 433.5 227.9 440.25 226.3 441.3Z"/>
<path stroke-width="0.7" d="M219.3 440.25 221.6 441 222.4 444.2 220.1 444.5Z"/>
<path stroke-width="0.7" d="M220.4 450 224 450.6 223.8 451.4 220.6 451Z"/>
<path stroke-width="0.7" d="M211 417.6 216.9 418.3 217.7 425.4 216.2 428.8 213 425.4 209.9 422.25Z"/>
<path stroke-width="0.7" d="M197.4 394.1 202.1 393.3 205.7 397.2 203.6 400.3 199.7 401.1 196.9 397.2Z"/>
<path stroke-width="0.7" d="M188 392.8 192.5 391.3 192.7 392.3 188.5 393.8Z"/>
<path stroke-width="0.9" d="M40 275 44.5 276.5 50.8 278.3 57.9 280.1 57.4 282.1 49.9 281.5 43.6 279.5 40.6 277.3Z"/>
<path stroke-width="0.9" d="M50.3 292.7 52.6 292.4 53.3 294.3 51.6 295.2 50.2 294.4Z"/>
<path stroke-width="0.9" d="M57.8 290.6 59.6 290.4 60 292.2 58.3 292.7Z"/>
<path stroke-width="0.9" d="M65.3 292.8 67.8 293.3 68.8 296.6 66.8 297 65 294.8Z"/>
<path stroke-width="0.9" d="M63 299.5 64.8 300.3 66 305.3 64.8 306.4 63.2 303.5Z"/>
<path stroke-width="0.9" d="M22.8 203.6 24.6 203.4 25.1 205.2 23.6 206 22.6 205Z"/>
<path stroke-width="0.9" d="M600.8 470 602.5 469.5 603.5 471 601.5 472Z"/>
<path stroke-width="0.6" d="M706.3 154.8 708.2 154.5 708.6 157 707 157.6 706.2 156.5Z"/>
<path stroke-width="1.3" d="M645.5 209.9 646.7 211.2 645.6 212.7 644.4 211.3Z"/>
</g>
<ellipse cx="722.7" cy="146" rx="2.1" ry="1.3" fill="#fff" stroke="#231f20" stroke-width="0.6"/>
<g font-family="'Liberation Sans',sans-serif" font-size="15.4" text-anchor="middle" stroke-width="0.25" text-rendering="geometricPrecision">
<text fill="#231f20" stroke="#231f20" transform="translate(102 46.25) scale(0.935 1)">WA</text><text fill="#231f20" stroke="#231f20" transform="translate(102 62.5) scale(0.965 1)">76.5</text>
<text fill="#fff" stroke="#fff" transform="translate(85.6 105) scale(0.935 1)">OR</text><text fill="#fff" stroke="#fff" transform="translate(86.6 121.75) scale(0.965 1)">92.9</text>
<text fill="#231f20" stroke="#231f20" transform="translate(159.5 114.5) scale(0.935 1)">ID</text><text fill="#231f20" stroke="#231f20" transform="translate(160.5 131) scale(0.965 1)">86.7</text>
<text fill="#231f20" stroke="#231f20" transform="translate(228.75 75) scale(0.935 1)">MT</text><text fill="#231f20" stroke="#231f20" transform="translate(229.4 91.75) scale(0.965 1)">85.0</text>
<text fill="#231f20" stroke="#231f20" transform="translate(243 145.5) scale(0.935 1)">WY</text><text fill="#231f20" stroke="#231f20" transform="translate(243.5 162.5) scale(0.965 1)">36.9</text>
<text fill="#231f20" stroke="#231f20" transform="translate(338.75 82) scale(0.935 1)">ND</text><text fill="#231f20" stroke="#231f20" transform="translate(338 98.75) scale(0.965 1)">35.1</text>
<text fill="#231f20" stroke="#231f20" transform="translate(338.75 128) scale(0.935 1)">SD</text><text fill="#231f20" stroke="#231f20" transform="translate(339.25 145) scale(0.965 1)">54.5</text>
<text fill="#231f20" stroke="#231f20" transform="translate(342.5 185.5) scale(0.935 1)">NE</text><text fill="#231f20" stroke="#231f20" transform="translate(342.5 201.75) scale(0.965 1)">67.7</text>
<text fill="#fff" stroke="#fff" transform="translate(359.4 240) scale(0.935 1)">KS</text><text fill="#fff" stroke="#fff" transform="translate(360.4 256.75) scale(0.965 1)">90.4</text>
<text fill="#231f20" stroke="#231f20" transform="translate(423.75 176.7) scale(0.935 1)">IA</text><text fill="#231f20" stroke="#231f20" transform="translate(424.6 193.75) scale(0.965 1)">70.7</text>
<text fill="#fff" stroke="#fff" transform="translate(440 241.25) scale(0.935 1)">MO</text><text fill="#fff" stroke="#fff" transform="translate(440.6 258) scale(0.965 1)">97.0</text>
<text fill="#231f20" stroke="#231f20" transform="translate(371.25 288.75) scale(0.935 1)">OK</text><text fill="#231f20" stroke="#231f20" transform="translate(375.6 305.5) scale(0.965 1)">58.4</text>
<text fill="#231f20" stroke="#231f20" transform="translate(442.75 302.5) scale(0.935 1)">AR</text><text fill="#231f20" stroke="#231f20" transform="translate(443 319.25) scale(0.965 1)">85.8</text>
<text fill="#231f20" stroke="#231f20" transform="translate(344 363.75) scale(0.935 1)">TX</text><text fill="#231f20" stroke="#231f20" transform="translate(344 380.5) scale(0.965 1)">74.7</text>
<text fill="#231f20" stroke="#231f20" transform="translate(443.75 368) scale(0.935 1)">LA</text><text fill="#231f20" stroke="#231f20" transform="translate(444.5 384.25) scale(0.965 1)">86.5</text>
<text fill="#231f20" stroke="#231f20" transform="translate(484.75 339.5) scale(0.935 1)">MS</text><text fill="#231f20" stroke="#231f20" transform="translate(485.6 356.25) scale(0.965 1)">85.4</text>
<text fill="#fff" stroke="#fff" transform="translate(526.25 328.75) scale(0.935 1)">AL</text><text fill="#fff" stroke="#fff" transform="translate(526.9 345.5) scale(0.965 1)">91.1</text>
<text fill="#fff" stroke="#fff" transform="translate(577.5 331.25) scale(0.935 1)">GA</text><text fill="#fff" stroke="#fff" transform="translate(578.75 348) scale(0.965 1)">96.6</text>
<text fill="#fff" stroke="#fff" transform="translate(610.25 402.5) scale(0.935 1)">FL</text><text fill="#fff" stroke="#fff" transform="translate(611.25 418.75) scale(0.965 1)">90.5</text>
<text fill="#fff" stroke="#fff" transform="translate(609.6 302) scale(0.935 1)">SC</text><text fill="#fff" stroke="#fff" transform="translate(610.6 318.75) scale(0.965 1)">91.9</text>
<text fill="#fff" stroke="#fff" transform="translate(638 268.75) scale(0.935 1)">NC</text><text fill="#fff" stroke="#fff" transform="translate(638.5 285.5) scale(0.965 1)">95.5</text>
<text fill="#fff" stroke="#fff" transform="translate(633.25 227.5) scale(0.935 1)">VA</text><text fill="#fff" stroke="#fff" transform="translate(633.75 244.25) scale(0.965 1)">90.6</text>
<text fill="#231f20" stroke="#231f20" transform="translate(596.25 224.5) scale(0.935 1)">WV</text><text fill="#231f20" stroke="#231f20" transform="translate(594 241.25) scale(0.965 1)">51.2</text>
<text fill="#231f20" stroke="#231f20" transform="translate(542.9 242.8) scale(0.935 1)">KY</text><text fill="#231f20" stroke="#231f20" transform="translate(544 260.6) scale(0.965 1)">88.6</text>
<text fill="#fff" stroke="#fff" transform="translate(528.75 283.8) scale(0.935 1)">TN</text><text fill="#fff" stroke="#fff" transform="translate(528.5 296.8) scale(0.965 1)">91.3</text>
<text fill="#fff" stroke="#fff" transform="translate(479.4 202) scale(0.935 1)">IL</text><text fill="#fff" stroke="#fff" transform="translate(481.25 218) scale(0.965 1)">95.9</text>
<text fill="#231f20" stroke="#231f20" transform="translate(520.75 209.5) scale(0.935 1)">IN</text><text fill="#231f20" stroke="#231f20" transform="translate(522 225.5) scale(0.965 1)">77.8</text>
<text fill="#fff" stroke="#fff" transform="translate(567 194.2) scale(0.935 1)">OH</text><text fill="#fff" stroke="#fff" transform="translate(567.8 211.7) scale(0.965 1)">92.3</text>
<text fill="#fff" stroke="#fff" transform="translate(530.6 130.5) scale(0.935 1)">MI</text><text fill="#fff" stroke="#fff" transform="translate(531 147.5) scale(0.965 1)">91.5</text>
<text fill="#fff" stroke="#fff" transform="translate(470.4 129.25) scale(0.935 1)">WI</text><text fill="#fff" stroke="#fff" transform="translate(470.6 146.25) scale(0.965 1)">91.2</text>
<text fill="#fff" stroke="#fff" transform="translate(414 103) scale(0.935 1)">MN</text><text fill="#fff" stroke="#fff" transform="translate(414 119.25) scale(0.965 1)">93.2</text>
<text fill="#fff" stroke="#fff" transform="translate(626.9 175.8) scale(0.935 1)">PA</text><text fill="#fff" stroke="#fff" transform="translate(628.2 193) scale(0.965 1)">95.4</text>
<text fill="#231f20" stroke="#231f20" transform="translate(651.6 124.4) scale(0.935 1)">NY</text><text fill="#231f20" stroke="#231f20" transform="translate(652.4 141.6) scale(0.965 1)">75.5</text>
<text fill="#fff" stroke="#fff" transform="translate(716.5 72.5) scale(0.935 1)">ME</text><text fill="#fff" stroke="#fff" transform="translate(716.25 90.1) scale(0.965 1)">91.1</text>
<text fill="#231f20" stroke="#231f20" transform="translate(113.75 187) scale(0.935 1)">NV</text><text fill="#231f20" stroke="#231f20" transform="translate(114 203.75) scale(0.965 1)">74.5</text>
<text fill="#fff" stroke="#fff" transform="translate(68 221.25) scale(0.935 1)">CA</text><text fill="#fff" stroke="#fff" transform="translate(68.5 238) scale(0.965 1)">93.0</text>
<text fill="#fff" stroke="#fff" transform="translate(182 208.75) scale(0.935 1)">UT</text><text fill="#fff" stroke="#fff" transform="translate(183 225.5) scale(0.965 1)">95.6</text>
<text fill="#fff" stroke="#fff" transform="translate(262.75 218.75) scale(0.935 1)">CO</text><text fill="#fff" stroke="#fff" transform="translate(263.75 235.5) scale(0.965 1)">93.8</text>
<text fill="#fff" stroke="#fff" transform="translate(168 296.25) scale(0.935 1)">AZ</text><text fill="#fff" stroke="#fff" transform="translate(168.75 312.5) scale(0.965 1)">96.4</text>
<text fill="#231f20" stroke="#231f20" transform="translate(247.9 305) scale(0.935 1)">NM</text><text fill="#231f20" stroke="#231f20" transform="translate(247.75 321.75) scale(0.965 1)">63.5</text>
<text fill="#231f20" stroke="#231f20" transform="translate(110.7 387.2) scale(0.935 1)">AK</text><text fill="#231f20" stroke="#231f20" transform="translate(111 404.3) scale(0.965 1)">36.3</text>
<text fill="#231f20" stroke="#231f20" transform="translate(261.25 482) scale(0.935 1)">HI</text><text fill="#231f20" stroke="#231f20" transform="translate(264 495.8) scale(0.965 1)">72.4</text>
</g>
<g font-family="'Liberation Sans',sans-serif" font-size="15.4" fill="#231f20" stroke="#231f20" stroke-width="0.25" text-rendering="geometricPrecision">
<text x="688.6" y="200.6" textLength="49.8" lengthAdjust="spacingAndGlyphs">VT 90.2</text>
<text x="688.6" y="222.15" textLength="53.7" lengthAdjust="spacingAndGlyphs">NH 92.2</text>
<text x="688.6" y="243.7" textLength="55.7" lengthAdjust="spacingAndGlyphs">MA 88.4</text>
<text x="688.6" y="265.25" textLength="45.3" lengthAdjust="spacingAndGlyphs">RI 89.2</text>
<text x="688.6" y="286.8" textLength="49.8" lengthAdjust="spacingAndGlyphs">CT 90.8</text>
<text x="688.6" y="308.35" textLength="49.2" lengthAdjust="spacingAndGlyphs">NJ 93.9</text>
<text x="688.6" y="329.9" textLength="56" lengthAdjust="spacingAndGlyphs">MD 87.3</text>
<text x="688.6" y="351.45" textLength="51.3" lengthAdjust="spacingAndGlyphs">DE 67.9</text>
<text x="688.6" y="373" textLength="52.2" lengthAdjust="spacingAndGlyphs">DC 49.3</text>
</g>
<rect x="60.5" y="528.6" width="19.8" height="19.8" fill="#c5202f" stroke="#231f20" stroke-width="0.8"/>
<text x="90.7" y="545" font-family="'Liberation Sans',sans-serif" font-size="20.4" fill="#231f20" textLength="190" lengthAdjust="spacingAndGlyphs">95.0+ (Most Diverse)</text>
<rect x="60.5" y="561.6" width="19.8" height="19.8" fill="#d04848" stroke="#231f20" stroke-width="0.8"/>
<text x="90.7" y="578" font-family="'Liberation Sans',sans-serif" font-size="20.4" fill="#231f20" textLength="88" lengthAdjust="spacingAndGlyphs">90.0–94.9</text>
<rect x="302.6" y="528.6" width="19.8" height="19.8" fill="#dc8072" stroke="#231f20" stroke-width="0.8"/>
<text x="332.8" y="545" font-family="'Liberation Sans',sans-serif" font-size="20.4" fill="#231f20" textLength="87.5" lengthAdjust="spacingAndGlyphs">85.0–89.9</text>
<rect x="302.6" y="561.6" width="19.8" height="19.8" fill="#ecb2a8" stroke="#231f20" stroke-width="0.8"/>
<text x="332.8" y="578" font-family="'Liberation Sans',sans-serif" font-size="20.4" fill="#231f20" textLength="87.5" lengthAdjust="spacingAndGlyphs">75.0–84.9</text>
<rect x="483.5" y="528.6" width="19.8" height="19.8" fill="#f8e1d9" stroke="#231f20" stroke-width="0.8"/>
<text x="513.7" y="545" font-family="'Liberation Sans',sans-serif" font-size="20.4" fill="#231f20" textLength="191.7" lengthAdjust="spacingAndGlyphs">&lt;75.0 (Least Diverse)</text>
<text x="19.5" y="625.5" font-family="'Liberation Sans',sans-serif" font-size="17.5" fill="#231f20" letter-spacing="0.1">Source: Kem C. Gardner Policy Institute analysis of U.S. Bureau of Economic Analysis</text>
<text x="19.5" y="649.5" font-family="'Liberation Sans',sans-serif" font-size="17.5" fill="#231f20" letter-spacing="0.1">GDP data</text>
</svg>
</body></html>
